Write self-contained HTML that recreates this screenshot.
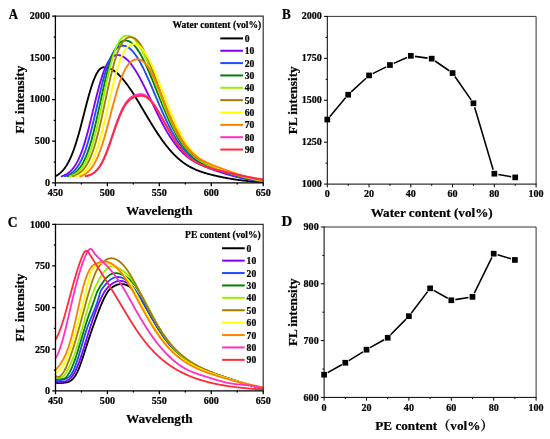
<!DOCTYPE html>
<html lang="en">
<head>
<meta charset="utf-8">
<title>Fluorescence spectra</title>
<style>
html,body{margin:0;padding:0;background:#fff;}
body{width:550px;height:439px;overflow:hidden;}
svg{display:block;}
text{font-family:'Liberation Serif', 'Noto Serif CJK SC', serif;font-weight:bold;fill:#000;stroke:#000;stroke-width:0.22px;}
.t{font-size:10.1px;}
.a{font-size:13.2px;}
.l{font-size:13.5px;}
.g{font-size:9.6px;}
</style>
</head>
<body>
<svg width="550" height="439" viewBox="0 0 550 439">
<rect width="550" height="439" fill="#fff"/>
<g id="panelA">
<clipPath id="cA"><rect x="55.4" y="16.2" width="207.8" height="167.7"/></clipPath>
<g clip-path="url(#cA)">
<polyline points="55.4,176.28 55.92,176 56.44,175.71 56.96,175.4 57.48,175.07 58,174.73 58.52,174.36 59.04,173.97 59.56,173.57 60.08,173.14 60.59,172.68 61.11,172.21 61.63,171.7 62.15,171.17 62.67,170.61 63.19,170.02 63.71,169.4 64.23,168.75 64.75,168.06 65.27,167.34 65.79,166.58 66.31,165.79 66.83,164.96 67.35,164.09 67.87,163.18 68.39,162.22 68.91,161.23 69.43,160.19 69.95,159.1 70.47,157.97 70.98,156.8 71.5,155.58 72.02,154.31 72.54,152.99 73.06,151.63 73.58,150.22 74.1,148.76 74.62,147.26 75.14,145.71 75.66,144.11 76.18,142.47 76.7,140.79 77.22,139.07 77.74,137.3 78.26,135.5 78.78,133.66 79.3,131.79 79.82,129.89 80.34,127.95 80.86,126 81.38,124.02 81.89,122.02 82.41,120.01 82.93,117.98 83.45,115.95 83.97,113.91 84.49,111.88 85.01,109.84 85.53,107.82 86.05,105.81 86.57,103.81 87.09,101.84 87.61,99.89 88.13,97.97 88.65,96.08 89.17,94.23 89.69,92.42 90.21,90.65 90.73,88.94 91.25,87.27 91.76,85.66 92.28,84.11 92.8,82.61 93.32,81.18 93.84,79.82 94.36,78.52 94.88,77.29 95.4,76.13 95.92,75.04 96.44,74.02 96.96,73.08 97.48,72.21 98,71.41 98.52,70.68 99.04,70.03 99.56,69.45 100.08,68.94 100.6,68.51 101.12,68.14 101.64,67.84 102.16,67.61 102.67,67.44 103.19,67.34 103.71,67.29 104.23,67.3 104.75,67.32 105.27,67.37 105.79,67.43 106.31,67.51 106.83,67.61 107.35,67.72 107.87,67.86 108.39,68.01 108.91,68.18 109.43,68.37 109.95,68.58 110.47,68.81 110.99,69.05 111.51,69.31 112.03,69.59 112.55,69.89 113.06,70.21 113.58,70.54 114.1,70.89 114.62,71.25 115.14,71.63 115.66,72.03 116.18,72.45 116.7,72.88 117.22,73.32 117.74,73.79 118.26,74.26 118.78,74.76 119.3,75.27 119.82,75.79 120.34,76.33 120.86,76.88 121.38,77.45 121.9,78.03 122.42,78.62 122.94,79.23 123.45,79.85 123.97,80.48 124.49,81.12 125.01,81.78 125.53,82.45 126.05,83.13 126.57,83.82 127.09,84.52 127.61,85.23 128.13,85.96 128.65,86.69 129.17,87.43 129.69,88.18 130.21,88.95 130.73,89.72 131.25,90.49 131.77,91.28 132.29,92.07 132.81,92.87 133.32,93.68 133.84,94.5 134.36,95.32 134.88,96.14 135.4,96.98 135.92,97.81 136.44,98.66 136.96,99.5 137.48,100.36 138,101.21 138.52,102.07 139.04,102.94 139.56,103.8 140.08,104.67 140.6,105.54 141.12,106.41 141.64,107.29 142.16,108.17 142.68,109.04 143.2,109.92 143.71,110.8 144.23,111.68 144.75,112.56 145.27,113.43 145.79,114.31 146.31,115.19 146.83,116.06 147.35,116.94 147.87,117.81 148.39,118.68 148.91,119.54 149.43,120.41 149.95,121.27 150.47,122.13 150.99,122.98 151.51,123.83 152.03,124.68 152.55,125.52 153.07,126.36 153.59,127.2 154.1,128.02 154.62,128.85 155.14,129.67 155.66,130.48 156.18,131.29 156.7,132.09 157.22,132.88 157.74,133.67 158.26,134.45 158.78,135.23 159.3,136 159.82,136.76 160.34,137.52 160.86,138.26 161.38,139 161.9,139.74 162.42,140.46 162.94,141.18 163.46,141.89 163.98,142.59 164.5,143.29 165.01,143.97 165.53,144.65 166.05,145.32 166.57,145.98 167.09,146.63 167.61,147.27 168.13,147.91 168.65,148.53 169.17,149.15 169.69,149.76 170.21,150.36 170.73,150.95 171.25,151.53 171.77,152.11 172.29,152.67 172.81,153.23 173.33,153.77 173.85,154.31 174.37,154.84 174.88,155.36 175.4,155.87 175.92,156.37 176.44,156.87 176.96,157.35 177.48,157.83 178,158.3 178.52,158.75 179.04,159.2 179.56,159.65 180.08,160.08 180.6,160.5 181.12,160.92 181.64,161.33 182.16,161.73 182.68,162.12 183.2,162.51 183.72,162.88 184.24,163.25 184.76,163.61 185.28,163.97 185.79,164.31 186.31,164.65 186.83,164.98 187.35,165.31 187.87,165.62 188.39,165.93 188.91,166.24 189.43,166.53 189.95,166.82 190.47,167.11 190.99,167.39 191.51,167.66 192.03,167.92 192.55,168.18 193.07,168.44 193.59,168.68 194.11,168.93 194.63,169.16 195.15,169.4 195.66,169.62 196.18,169.85 196.7,170.06 197.22,170.28 197.74,170.48 198.26,170.69 198.78,170.89 199.3,171.08 199.82,171.28 200.34,171.46 200.86,171.65 201.38,171.83 201.9,172 202.42,172.18 202.94,172.35 203.46,172.52 203.98,172.68 204.5,172.84 205.02,173 205.54,173.15 206.05,173.31 206.57,173.46 207.09,173.61 207.61,173.75 208.13,173.9 208.65,174.04 209.17,174.18 209.69,174.31 210.21,174.45 210.73,174.58 211.25,174.72 211.77,174.85 212.29,174.97 212.81,175.1 213.33,175.23 213.85,175.35 214.37,175.48 214.89,175.6 215.41,175.72 215.93,175.84 216.44,175.95 216.96,176.07 217.48,176.18 218,176.3 218.52,176.41 219.04,176.52 219.56,176.63 220.08,176.74 220.6,176.85 221.12,176.96 221.64,177.07 222.16,177.17 222.68,177.28 223.2,177.38 223.72,177.48 224.24,177.58 224.76,177.68 225.28,177.78 225.8,177.88 226.32,177.98 226.83,178.07 227.35,178.17 227.87,178.26 228.39,178.35 228.91,178.44 229.43,178.54 229.95,178.63 230.47,178.71 230.99,178.8 231.51,178.89 232.03,178.97 232.55,179.06 233.07,179.14 233.59,179.22 234.11,179.3 234.63,179.38 235.15,179.46 235.67,179.54 236.19,179.61 236.71,179.69 237.22,179.76 237.74,179.83 238.26,179.91 238.78,179.98 239.3,180.05 239.82,180.11 240.34,180.18 240.86,180.25 241.38,180.31 241.9,180.37 242.42,180.44 242.94,180.5 243.46,180.56 243.98,180.62 244.5,180.67 245.02,180.73 245.54,180.79 246.06,180.84 246.58,180.9 247.1,180.95 247.62,181 248.13,181.05 248.65,181.1 249.17,181.15 249.69,181.19 250.21,181.24 250.73,181.29 251.25,181.33 251.77,181.37 252.29,181.42 252.81,181.46 253.33,181.5 253.85,181.54 254.37,181.58 254.89,181.61 255.41,181.65 255.93,181.69 256.45,181.72 256.97,181.75 257.49,181.79 258,181.82 258.52,181.85 259.04,181.88 259.56,181.91 260.08,181.94 260.6,181.97 261.12,182 261.64,182.03 262.16,182.05 262.68,182.08 263.2,182.1" fill="none" stroke="#000000" stroke-width="1.85" stroke-linejoin="round" stroke-linecap="round"/>
<polyline points="61.63,176.32 62.15,176.15 62.67,175.96 63.19,175.76 63.71,175.55 64.23,175.33 64.75,175.08 65.27,174.83 65.79,174.55 66.31,174.26 66.83,173.95 67.35,173.62 67.87,173.27 68.39,172.89 68.91,172.5 69.43,172.07 69.95,171.63 70.47,171.15 70.98,170.65 71.5,170.12 72.02,169.56 72.54,168.96 73.06,168.33 73.58,167.67 74.1,166.97 74.62,166.23 75.14,165.45 75.66,164.63 76.18,163.77 76.7,162.86 77.22,161.91 77.74,160.92 78.26,159.87 78.78,158.78 79.3,157.63 79.82,156.44 80.34,155.19 80.86,153.9 81.38,152.55 81.89,151.15 82.41,149.69 82.93,148.18 83.45,146.63 83.97,145.01 84.49,143.35 85.01,141.64 85.53,139.88 86.05,138.08 86.57,136.23 87.09,134.34 87.61,132.4 88.13,130.43 88.65,128.43 89.17,126.39 89.69,124.32 90.21,122.23 90.73,120.11 91.25,117.98 91.76,115.84 92.28,113.68 92.8,111.52 93.32,109.35 93.84,107.19 94.36,105.03 94.88,102.89 95.4,100.76 95.92,98.65 96.44,96.56 96.96,94.5 97.48,92.47 98,90.47 98.52,88.52 99.04,86.6 99.56,84.73 100.08,82.9 100.6,81.13 101.12,79.41 101.64,77.74 102.16,76.13 102.67,74.58 103.19,73.08 103.71,71.65 104.23,70.28 104.75,68.98 105.27,67.73 105.79,66.55 106.31,65.43 106.83,64.38 107.35,63.39 107.87,62.46 108.39,61.59 108.91,60.78 109.43,60.04 109.95,59.35 110.47,58.72 110.99,58.15 111.51,57.63 112.03,57.16 112.55,56.75 113.06,56.38 113.58,56.06 114.1,55.79 114.62,55.57 115.14,55.39 115.66,55.24 116.18,55.14 116.7,55.07 117.22,55.04 117.74,55.05 118.26,55.08 118.78,55.13 119.3,55.22 119.82,55.33 120.34,55.47 120.86,55.63 121.38,55.83 121.9,56.05 122.42,56.29 122.94,56.57 123.45,56.86 123.97,57.19 124.49,57.54 125.01,57.92 125.53,58.32 126.05,58.74 126.57,59.2 127.09,59.67 127.61,60.17 128.13,60.7 128.65,61.24 129.17,61.81 129.69,62.41 130.21,63.02 130.73,63.66 131.25,64.32 131.77,65 132.29,65.7 132.81,66.42 133.32,67.16 133.84,67.92 134.36,68.7 134.88,69.5 135.4,70.32 135.92,71.15 136.44,72 136.96,72.86 137.48,73.75 138,74.64 138.52,75.55 139.04,76.48 139.56,77.42 140.08,78.37 140.6,79.33 141.12,80.31 141.64,81.3 142.16,82.29 142.68,83.3 143.2,84.32 143.71,85.34 144.23,86.38 144.75,87.42 145.27,88.47 145.79,89.52 146.31,90.59 146.83,91.65 147.35,92.73 147.87,93.8 148.39,94.88 148.91,95.96 149.43,97.05 149.95,98.14 150.47,99.22 150.99,100.31 151.51,101.4 152.03,102.49 152.55,103.58 153.07,104.67 153.59,105.75 154.1,106.84 154.62,107.92 155.14,108.99 155.66,110.07 156.18,111.14 156.7,112.2 157.22,113.26 157.74,114.31 158.26,115.36 158.78,116.4 159.3,117.43 159.82,118.46 160.34,119.48 160.86,120.49 161.38,121.49 161.9,122.48 162.42,123.47 162.94,124.44 163.46,125.41 163.98,126.36 164.5,127.31 165.01,128.24 165.53,129.17 166.05,130.08 166.57,130.98 167.09,131.87 167.61,132.75 168.13,133.62 168.65,134.47 169.17,135.31 169.69,136.14 170.21,136.96 170.73,137.76 171.25,138.56 171.77,139.33 172.29,140.1 172.81,140.85 173.33,141.59 173.85,142.32 174.37,143.04 174.88,143.74 175.4,144.43 175.92,145.1 176.44,145.77 176.96,146.41 177.48,147.05 178,147.68 178.52,148.29 179.04,148.89 179.56,149.47 180.08,150.05 180.6,150.61 181.12,151.16 181.64,151.69 182.16,152.22 182.68,152.73 183.2,153.23 183.72,153.72 184.24,154.2 184.76,154.67 185.28,155.13 185.79,155.57 186.31,156.01 186.83,156.43 187.35,156.85 187.87,157.25 188.39,157.65 188.91,158.04 189.43,158.41 189.95,158.78 190.47,159.14 190.99,159.49 191.51,159.84 192.03,160.17 192.55,160.5 193.07,160.82 193.59,161.13 194.11,161.43 194.63,161.73 195.15,162.02 195.66,162.31 196.18,162.59 196.7,162.86 197.22,163.13 197.74,163.39 198.26,163.65 198.78,163.9 199.3,164.15 199.82,164.4 200.34,164.63 200.86,164.87 201.38,165.1 201.9,165.33 202.42,165.55 202.94,165.77 203.46,165.99 203.98,166.21 204.5,166.42 205.02,166.63 205.54,166.83 206.05,167.04 206.57,167.24 207.09,167.44 207.61,167.64 208.13,167.84 208.65,168.03 209.17,168.23 209.69,168.42 210.21,168.61 210.73,168.8 211.25,168.99 211.77,169.17 212.29,169.36 212.81,169.54 213.33,169.73 213.85,169.91 214.37,170.09 214.89,170.27 215.41,170.45 215.93,170.63 216.44,170.81 216.96,170.99 217.48,171.17 218,171.34 218.52,171.52 219.04,171.69 219.56,171.87 220.08,172.04 220.6,172.21 221.12,172.38 221.64,172.55 222.16,172.72 222.68,172.89 223.2,173.06 223.72,173.22 224.24,173.39 224.76,173.55 225.28,173.72 225.8,173.88 226.32,174.04 226.83,174.2 227.35,174.36 227.87,174.52 228.39,174.67 228.91,174.83 229.43,174.98 229.95,175.13 230.47,175.28 230.99,175.43 231.51,175.58 232.03,175.73 232.55,175.87 233.07,176.01 233.59,176.15 234.11,176.29 234.63,176.43 235.15,176.57 235.67,176.7 236.19,176.84 236.71,176.97 237.22,177.1 237.74,177.22 238.26,177.35 238.78,177.47 239.3,177.6 239.82,177.72 240.34,177.84 240.86,177.95 241.38,178.07 241.9,178.18 242.42,178.29 242.94,178.4 243.46,178.51 243.98,178.61 244.5,178.72 245.02,178.82 245.54,178.92 246.06,179.02 246.58,179.12 247.1,179.21 247.62,179.31 248.13,179.4 248.65,179.49 249.17,179.57 249.69,179.66 250.21,179.74 250.73,179.83 251.25,179.91 251.77,179.99 252.29,180.07 252.81,180.14 253.33,180.22 253.85,180.29 254.37,180.36 254.89,180.43 255.41,180.5 255.93,180.56 256.45,180.63 256.97,180.69 257.49,180.76 258,180.82 258.52,180.88 259.04,180.93 259.56,180.99 260.08,181.04 260.6,181.1 261.12,181.15 261.64,181.2 262.16,181.25 262.68,181.3 263.2,181.35" fill="none" stroke="#7f00ff" stroke-width="1.85" stroke-linejoin="round" stroke-linecap="round"/>
<polyline points="64.96,176.33 65.48,176.16 66,175.97 66.52,175.77 67.04,175.56 67.56,175.33 68.08,175.09 68.6,174.83 69.11,174.55 69.63,174.26 70.15,173.94 70.67,173.61 71.19,173.25 71.71,172.87 72.23,172.47 72.75,172.04 73.27,171.59 73.79,171.11 74.31,170.6 74.83,170.06 75.35,169.49 75.87,168.88 76.39,168.25 76.91,167.57 77.43,166.86 77.95,166.1 78.47,165.31 78.99,164.48 79.5,163.6 80.02,162.67 80.54,161.7 81.06,160.69 81.58,159.62 82.1,158.5 82.62,157.33 83.14,156.11 83.66,154.84 84.18,153.51 84.7,152.13 85.22,150.69 85.74,149.2 86.26,147.65 86.78,146.05 87.3,144.4 87.82,142.69 88.34,140.93 88.86,139.13 89.38,137.27 89.89,135.36 90.41,133.41 90.93,131.41 91.45,129.37 91.97,127.3 92.49,125.19 93.01,123.04 93.53,120.87 94.05,118.68 94.57,116.46 95.09,114.22 95.61,111.97 96.13,109.71 96.65,107.44 97.17,105.17 97.69,102.91 98.21,100.65 98.73,98.4 99.25,96.17 99.77,93.95 100.28,91.76 100.8,89.6 101.32,87.47 101.84,85.37 102.36,83.31 102.88,81.29 103.4,79.32 103.92,77.39 104.44,75.51 104.96,73.68 105.48,71.91 106,70.19 106.52,68.53 107.04,66.93 107.56,65.39 108.08,63.91 108.6,62.5 109.12,61.14 109.64,59.85 110.16,58.62 110.67,57.46 111.19,56.35 111.71,55.31 112.23,54.33 112.75,53.41 113.27,52.55 113.79,51.75 114.31,51.01 114.83,50.32 115.35,49.69 115.87,49.11 116.39,48.58 116.91,48.1 117.43,47.68 117.95,47.3 118.47,46.96 118.99,46.67 119.51,46.42 120.03,46.21 120.55,46.04 121.06,45.91 121.58,45.81 122.1,45.74 122.62,45.71 123.14,45.71 123.66,45.74 124.18,45.8 124.7,45.89 125.22,46.02 125.74,46.18 126.26,46.37 126.78,46.59 127.3,46.85 127.82,47.13 128.34,47.45 128.86,47.8 129.38,48.18 129.9,48.59 130.42,49.03 130.94,49.5 131.45,50 131.97,50.53 132.49,51.08 133.01,51.67 133.53,52.28 134.05,52.93 134.57,53.6 135.09,54.29 135.61,55.01 136.13,55.76 136.65,56.53 137.17,57.33 137.69,58.15 138.21,58.99 138.73,59.86 139.25,60.75 139.77,61.66 140.29,62.59 140.81,63.54 141.33,64.51 141.84,65.5 142.36,66.51 142.88,67.53 143.4,68.57 143.92,69.63 144.44,70.71 144.96,71.8 145.48,72.9 146,74.01 146.52,75.14 147.04,76.28 147.56,77.43 148.08,78.59 148.6,79.77 149.12,80.95 149.64,82.13 150.16,83.33 150.68,84.53 151.2,85.74 151.72,86.95 152.23,88.17 152.75,89.39 153.27,90.62 153.79,91.85 154.31,93.08 154.83,94.31 155.35,95.54 155.87,96.77 156.39,98 156.91,99.23 157.43,100.45 157.95,101.67 158.47,102.89 158.99,104.11 159.51,105.32 160.03,106.52 160.55,107.72 161.07,108.92 161.59,110.1 162.11,111.28 162.62,112.45 163.14,113.61 163.66,114.77 164.18,115.91 164.7,117.05 165.22,118.17 165.74,119.28 166.26,120.39 166.78,121.48 167.3,122.56 167.82,123.62 168.34,124.68 168.86,125.72 169.38,126.75 169.9,127.76 170.42,128.76 170.94,129.75 171.46,130.72 171.98,131.68 172.5,132.63 173.01,133.56 173.53,134.48 174.05,135.38 174.57,136.26 175.09,137.13 175.61,137.99 176.13,138.83 176.65,139.65 177.17,140.46 177.69,141.26 178.21,142.04 178.73,142.8 179.25,143.55 179.77,144.28 180.29,145 180.81,145.7 181.33,146.39 181.85,147.07 182.37,147.72 182.89,148.37 183.4,149 183.92,149.61 184.44,150.21 184.96,150.8 185.48,151.37 186,151.93 186.52,152.48 187.04,153.01 187.56,153.53 188.08,154.03 188.6,154.53 189.12,155.01 189.64,155.48 190.16,155.94 190.68,156.38 191.2,156.82 191.72,157.24 192.24,157.65 192.76,158.06 193.28,158.45 193.79,158.83 194.31,159.2 194.83,159.57 195.35,159.92 195.87,160.27 196.39,160.6 196.91,160.93 197.43,161.25 197.95,161.57 198.47,161.87 198.99,162.17 199.51,162.46 200.03,162.75 200.55,163.03 201.07,163.3 201.59,163.57 202.11,163.83 202.63,164.09 203.15,164.34 203.67,164.59 204.18,164.83 204.7,165.07 205.22,165.3 205.74,165.54 206.26,165.76 206.78,165.99 207.3,166.21 207.82,166.43 208.34,166.64 208.86,166.85 209.38,167.06 209.9,167.27 210.42,167.48 210.94,167.68 211.46,167.88 211.98,168.08 212.5,168.28 213.02,168.48 213.54,168.67 214.06,168.87 214.57,169.06 215.09,169.25 215.61,169.44 216.13,169.63 216.65,169.82 217.17,170.01 217.69,170.19 218.21,170.38 218.73,170.56 219.25,170.75 219.77,170.93 220.29,171.11 220.81,171.3 221.33,171.48 221.85,171.66 222.37,171.84 222.89,172.01 223.41,172.19 223.93,172.37 224.45,172.54 224.96,172.72 225.48,172.89 226,173.06 226.52,173.24 227.04,173.41 227.56,173.58 228.08,173.75 228.6,173.91 229.12,174.08 229.64,174.24 230.16,174.41 230.68,174.57 231.2,174.73 231.72,174.89 232.24,175.05 232.76,175.2 233.28,175.36 233.8,175.51 234.32,175.67 234.84,175.82 235.35,175.96 235.87,176.11 236.39,176.26 236.91,176.4 237.43,176.54 237.95,176.68 238.47,176.82 238.99,176.96 239.51,177.09 240.03,177.22 240.55,177.35 241.07,177.48 241.59,177.61 242.11,177.73 242.63,177.86 243.15,177.98 243.67,178.1 244.19,178.21 244.71,178.33 245.23,178.44 245.74,178.55 246.26,178.66 246.78,178.77 247.3,178.87 247.82,178.98 248.34,179.08 248.86,179.18 249.38,179.28 249.9,179.37 250.42,179.46 250.94,179.56 251.46,179.65 251.98,179.73 252.5,179.82 253.02,179.91 253.54,179.99 254.06,180.07 254.58,180.15 255.1,180.22 255.62,180.3 256.13,180.37 256.65,180.45 257.17,180.52 257.69,180.59 258.21,180.65 258.73,180.72 259.25,180.78 259.77,180.84 260.29,180.91 260.81,180.97 261.33,181.02 261.85,181.08 262.37,181.13 262.89,181.19" fill="none" stroke="#1f4bff" stroke-width="1.85" stroke-linejoin="round" stroke-linecap="round"/>
<polyline points="67.76,176.26 68.28,176.1 68.8,175.93 69.32,175.75 69.84,175.55 70.36,175.34 70.88,175.11 71.4,174.87 71.92,174.6 72.44,174.33 72.96,174.03 73.48,173.71 74,173.37 74.52,173.01 75.04,172.63 75.56,172.22 76.08,171.79 76.6,171.33 77.12,170.84 77.63,170.32 78.15,169.77 78.67,169.18 79.19,168.56 79.71,167.91 80.23,167.21 80.75,166.48 81.27,165.7 81.79,164.89 82.31,164.02 82.83,163.11 83.35,162.16 83.87,161.15 84.39,160.09 84.91,158.98 85.43,157.82 85.95,156.6 86.47,155.33 86.99,154 87.51,152.61 88.02,151.16 88.54,149.65 89.06,148.09 89.58,146.47 90.1,144.78 90.62,143.04 91.14,141.25 91.66,139.39 92.18,137.48 92.7,135.52 93.22,133.51 93.74,131.44 94.26,129.33 94.78,127.18 95.3,124.98 95.82,122.75 96.34,120.48 96.86,118.18 97.38,115.85 97.9,113.5 98.41,111.13 98.93,108.75 99.45,106.35 99.97,103.95 100.49,101.55 101.01,99.16 101.53,96.77 102.05,94.39 102.57,92.04 103.09,89.7 103.61,87.39 104.13,85.11 104.65,82.87 105.17,80.67 105.69,78.5 106.21,76.39 106.73,74.32 107.25,72.3 107.77,70.34 108.29,68.44 108.8,66.6 109.32,64.82 109.84,63.1 110.36,61.44 110.88,59.85 111.4,58.33 111.92,56.88 112.44,55.49 112.96,54.18 113.48,52.93 114,51.74 114.52,50.63 115.04,49.58 115.56,48.6 116.08,47.68 116.6,46.83 117.12,46.04 117.64,45.31 118.16,44.64 118.68,44.03 119.19,43.47 119.71,42.97 120.23,42.52 120.75,42.13 121.27,41.78 121.79,41.48 122.31,41.22 122.83,41.01 123.35,40.84 123.87,40.71 124.39,40.62 124.91,40.56 125.43,40.54 125.95,40.55 126.47,40.6 126.99,40.68 127.51,40.79 128.03,40.94 128.55,41.13 129.07,41.35 129.58,41.6 130.1,41.89 130.62,42.21 131.14,42.57 131.66,42.96 132.18,43.38 132.7,43.84 133.22,44.33 133.74,44.85 134.26,45.4 134.78,45.98 135.3,46.59 135.82,47.24 136.34,47.91 136.86,48.62 137.38,49.35 137.9,50.11 138.42,50.9 138.94,51.71 139.46,52.56 139.97,53.42 140.49,54.32 141.01,55.23 141.53,56.18 142.05,57.14 142.57,58.13 143.09,59.14 143.61,60.17 144.13,61.22 144.65,62.29 145.17,63.38 145.69,64.49 146.21,65.61 146.73,66.75 147.25,67.91 147.77,69.08 148.29,70.27 148.81,71.46 149.33,72.68 149.85,73.9 150.36,75.13 150.88,76.38 151.4,77.63 151.92,78.9 152.44,80.17 152.96,81.44 153.48,82.73 154,84.02 154.52,85.31 155.04,86.61 155.56,87.91 156.08,89.21 156.6,90.51 157.12,91.82 157.64,93.12 158.16,94.43 158.68,95.73 159.2,97.03 159.72,98.33 160.24,99.62 160.75,100.91 161.27,102.2 161.79,103.48 162.31,104.75 162.83,106.02 163.35,107.28 163.87,108.53 164.39,109.77 164.91,111.01 165.43,112.23 165.95,113.45 166.47,114.65 166.99,115.84 167.51,117.03 168.03,118.2 168.55,119.35 169.07,120.5 169.59,121.63 170.11,122.75 170.63,123.85 171.14,124.94 171.66,126.02 172.18,127.08 172.7,128.13 173.22,129.16 173.74,130.18 174.26,131.18 174.78,132.16 175.3,133.13 175.82,134.08 176.34,135.02 176.86,135.94 177.38,136.85 177.9,137.73 178.42,138.6 178.94,139.46 179.46,140.3 179.98,141.12 180.5,141.92 181.02,142.71 181.53,143.48 182.05,144.24 182.57,144.98 183.09,145.7 183.61,146.41 184.13,147.1 184.65,147.77 185.17,148.43 185.69,149.08 186.21,149.71 186.73,150.32 187.25,150.92 187.77,151.5 188.29,152.07 188.81,152.63 189.33,153.17 189.85,153.69 190.37,154.21 190.89,154.71 191.41,155.19 191.92,155.67 192.44,156.13 192.96,156.58 193.48,157.02 194,157.44 194.52,157.86 195.04,158.26 195.56,158.65 196.08,159.04 196.6,159.41 197.12,159.77 197.64,160.12 198.16,160.47 198.68,160.8 199.2,161.13 199.72,161.45 200.24,161.76 200.76,162.06 201.28,162.36 201.8,162.64 202.31,162.92 202.83,163.2 203.35,163.47 203.87,163.73 204.39,163.99 204.91,164.24 205.43,164.49 205.95,164.73 206.47,164.96 206.99,165.2 207.51,165.43 208.03,165.65 208.55,165.87 209.07,166.09 209.59,166.31 210.11,166.52 210.63,166.73 211.15,166.93 211.67,167.14 212.19,167.34 212.7,167.54 213.22,167.74 213.74,167.94 214.26,168.13 214.78,168.32 215.3,168.52 215.82,168.71 216.34,168.89 216.86,169.08 217.38,169.27 217.9,169.46 218.42,169.64 218.94,169.83 219.46,170.01 219.98,170.19 220.5,170.38 221.02,170.56 221.54,170.74 222.06,170.92 222.58,171.1 223.09,171.28 223.61,171.46 224.13,171.63 224.65,171.81 225.17,171.99 225.69,172.16 226.21,172.34 226.73,172.51 227.25,172.68 227.77,172.86 228.29,173.03 228.81,173.2 229.33,173.37 229.85,173.54 230.37,173.71 230.89,173.87 231.41,174.04 231.93,174.21 232.45,174.37 232.97,174.53 233.48,174.69 234,174.85 234.52,175.01 235.04,175.17 235.56,175.32 236.08,175.48 236.6,175.63 237.12,175.78 237.64,175.93 238.16,176.08 238.68,176.22 239.2,176.37 239.72,176.51 240.24,176.65 240.76,176.79 241.28,176.93 241.8,177.06 242.32,177.2 242.84,177.33 243.36,177.46 243.87,177.59 244.39,177.71 244.91,177.84 245.43,177.96 245.95,178.08 246.47,178.2 246.99,178.31 247.51,178.43 248.03,178.54 248.55,178.65 249.07,178.76 249.59,178.86 250.11,178.97 250.63,179.07 251.15,179.17 251.67,179.27 252.19,179.37 252.71,179.46 253.23,179.55 253.75,179.64 254.26,179.73 254.78,179.82 255.3,179.9 255.82,179.99 256.34,180.07 256.86,180.15 257.38,180.23 257.9,180.3 258.42,180.38 258.94,180.45 259.46,180.52 259.98,180.59 260.5,180.66 261.02,180.72 261.54,180.79 262.06,180.85 262.58,180.91 263.1,180.97" fill="none" stroke="#007f00" stroke-width="1.85" stroke-linejoin="round" stroke-linecap="round"/>
<polyline points="69.63,176.27 70.15,176.11 70.67,175.95 71.19,175.77 71.71,175.57 72.23,175.37 72.75,175.15 73.27,174.91 73.79,174.66 74.31,174.4 74.83,174.11 75.35,173.81 75.87,173.48 76.39,173.14 76.91,172.77 77.43,172.38 77.95,171.97 78.47,171.53 78.99,171.06 79.5,170.57 80.02,170.04 80.54,169.49 81.06,168.9 81.58,168.27 82.1,167.62 82.62,166.92 83.14,166.18 83.66,165.4 84.18,164.58 84.7,163.72 85.22,162.8 85.74,161.84 86.26,160.84 86.78,159.78 87.3,158.66 87.82,157.5 88.34,156.27 88.86,154.99 89.38,153.66 89.89,152.26 90.41,150.81 90.93,149.29 91.45,147.72 91.97,146.08 92.49,144.38 93.01,142.62 93.53,140.81 94.05,138.93 94.57,136.99 95.09,135 95.61,132.95 96.13,130.85 96.65,128.69 97.17,126.49 97.69,124.24 98.21,121.95 98.73,119.62 99.25,117.25 99.77,114.84 100.28,112.41 100.8,109.96 101.32,107.48 101.84,104.99 102.36,102.49 102.88,99.98 103.4,97.48 103.92,94.97 104.44,92.47 104.96,89.99 105.48,87.53 106,85.09 106.52,82.67 107.04,80.29 107.56,77.95 108.08,75.64 108.6,73.39 109.12,71.18 109.64,69.02 110.16,66.92 110.67,64.88 111.19,62.9 111.71,60.99 112.23,59.14 112.75,57.36 113.27,55.65 113.79,54.01 114.31,52.45 114.83,50.96 115.35,49.54 115.87,48.2 116.39,46.93 116.91,45.74 117.43,44.62 117.95,43.57 118.47,42.6 118.99,41.7 119.51,40.86 120.03,40.1 120.55,39.4 121.06,38.77 121.58,38.21 122.1,37.7 122.62,37.26 123.14,36.87 123.66,36.54 124.18,36.27 124.7,36.04 125.22,35.87 125.74,35.74 126.26,35.66 126.78,35.62 127.3,35.63 127.82,35.67 128.34,35.75 128.86,35.87 129.38,36.03 129.9,36.22 130.42,36.46 130.94,36.73 131.45,37.04 131.97,37.38 132.49,37.77 133.01,38.19 133.53,38.64 134.05,39.14 134.57,39.66 135.09,40.23 135.61,40.82 136.13,41.45 136.65,42.12 137.17,42.82 137.69,43.55 138.21,44.31 138.73,45.1 139.25,45.93 139.77,46.78 140.29,47.66 140.81,48.57 141.33,49.51 141.84,50.48 142.36,51.47 142.88,52.49 143.4,53.53 143.92,54.6 144.44,55.69 144.96,56.8 145.48,57.93 146,59.09 146.52,60.26 147.04,61.45 147.56,62.66 148.08,63.89 148.6,65.13 149.12,66.39 149.64,67.66 150.16,68.95 150.68,70.24 151.2,71.55 151.72,72.87 152.23,74.2 152.75,75.54 153.27,76.89 153.79,78.24 154.31,79.6 154.83,80.97 155.35,82.34 155.87,83.71 156.39,85.09 156.91,86.46 157.43,87.84 157.95,89.22 158.47,90.6 158.99,91.97 159.51,93.35 160.03,94.72 160.55,96.09 161.07,97.45 161.59,98.8 162.11,100.15 162.62,101.5 163.14,102.84 163.66,104.16 164.18,105.48 164.7,106.79 165.22,108.09 165.74,109.38 166.26,110.66 166.78,111.93 167.3,113.19 167.82,114.43 168.34,115.66 168.86,116.88 169.38,118.08 169.9,119.27 170.42,120.44 170.94,121.6 171.46,122.74 171.98,123.87 172.5,124.98 173.01,126.08 173.53,127.16 174.05,128.22 174.57,129.26 175.09,130.29 175.61,131.3 176.13,132.3 176.65,133.27 177.17,134.23 177.69,135.18 178.21,136.1 178.73,137.01 179.25,137.9 179.77,138.77 180.29,139.62 180.81,140.46 181.33,141.28 181.85,142.08 182.37,142.86 182.89,143.63 183.4,144.38 183.92,145.11 184.44,145.83 184.96,146.53 185.48,147.21 186,147.88 186.52,148.53 187.04,149.16 187.56,149.78 188.08,150.39 188.6,150.98 189.12,151.55 189.64,152.11 190.16,152.66 190.68,153.19 191.2,153.71 191.72,154.21 192.24,154.7 192.76,155.18 193.28,155.64 193.79,156.1 194.31,156.54 194.83,156.97 195.35,157.39 195.87,157.79 196.39,158.19 196.91,158.58 197.43,158.95 197.95,159.32 198.47,159.68 198.99,160.02 199.51,160.36 200.03,160.69 200.55,161.01 201.07,161.33 201.59,161.64 202.11,161.93 202.63,162.23 203.15,162.51 203.67,162.79 204.18,163.06 204.7,163.33 205.22,163.59 205.74,163.85 206.26,164.1 206.78,164.35 207.3,164.59 207.82,164.83 208.34,165.06 208.86,165.29 209.38,165.51 209.9,165.74 210.42,165.96 210.94,166.17 211.46,166.39 211.98,166.6 212.5,166.8 213.02,167.01 213.54,167.21 214.06,167.41 214.57,167.61 215.09,167.81 215.61,168.01 216.13,168.2 216.65,168.4 217.17,168.59 217.69,168.78 218.21,168.97 218.73,169.16 219.25,169.34 219.77,169.53 220.29,169.71 220.81,169.9 221.33,170.08 221.85,170.27 222.37,170.45 222.89,170.63 223.41,170.81 223.93,170.99 224.45,171.17 224.96,171.35 225.48,171.53 226,171.7 226.52,171.88 227.04,172.05 227.56,172.23 228.08,172.4 228.6,172.58 229.12,172.75 229.64,172.92 230.16,173.09 230.68,173.26 231.2,173.43 231.72,173.6 232.24,173.76 232.76,173.93 233.28,174.09 233.8,174.26 234.32,174.42 234.84,174.58 235.35,174.74 235.87,174.9 236.39,175.05 236.91,175.21 237.43,175.36 237.95,175.51 238.47,175.66 238.99,175.81 239.51,175.96 240.03,176.11 240.55,176.25 241.07,176.39 241.59,176.53 242.11,176.67 242.63,176.81 243.15,176.95 243.67,177.08 244.19,177.21 244.71,177.34 245.23,177.47 245.74,177.6 246.26,177.72 246.78,177.84 247.3,177.96 247.82,178.08 248.34,178.2 248.86,178.31 249.38,178.43 249.9,178.54 250.42,178.65 250.94,178.76 251.46,178.86 251.98,178.96 252.5,179.07 253.02,179.17 253.54,179.26 254.06,179.36 254.58,179.45 255.1,179.54 255.62,179.63 256.13,179.72 256.65,179.81 257.17,179.89 257.69,179.98 258.21,180.06 258.73,180.14 259.25,180.21 259.77,180.29 260.29,180.36 260.81,180.44 261.33,180.51 261.85,180.58 262.37,180.64 262.89,180.71" fill="none" stroke="#99ee00" stroke-width="1.85" stroke-linejoin="round" stroke-linecap="round"/>
<polyline points="72.96,176.26 73.48,176.09 74,175.91 74.52,175.71 75.04,175.51 75.56,175.28 76.08,175.04 76.6,174.79 77.12,174.51 77.63,174.22 78.15,173.91 78.67,173.58 79.19,173.22 79.71,172.85 80.23,172.44 80.75,172.02 81.27,171.56 81.79,171.08 82.31,170.57 82.83,170.02 83.35,169.45 83.87,168.84 84.39,168.19 84.91,167.51 85.43,166.78 85.95,166.02 86.47,165.21 86.99,164.36 87.51,163.46 88.02,162.51 88.54,161.51 89.06,160.47 89.58,159.37 90.1,158.21 90.62,157 91.14,155.74 91.66,154.42 92.18,153.04 92.7,151.6 93.22,150.1 93.74,148.54 94.26,146.92 94.78,145.24 95.3,143.5 95.82,141.7 96.34,139.85 96.86,137.94 97.38,135.97 97.9,133.95 98.41,131.88 98.93,129.75 99.45,127.58 99.97,125.37 100.49,123.12 101.01,120.82 101.53,118.5 102.05,116.14 102.57,113.76 103.09,111.35 103.61,108.93 104.13,106.49 104.65,104.05 105.17,101.6 105.69,99.15 106.21,96.71 106.73,94.27 107.25,91.85 107.77,89.45 108.29,87.07 108.8,84.72 109.32,82.41 109.84,80.13 110.36,77.88 110.88,75.69 111.4,73.54 111.92,71.44 112.44,69.39 112.96,67.4 113.48,65.47 114,63.6 114.52,61.79 115.04,60.04 115.56,58.36 116.08,56.75 116.6,55.21 117.12,53.73 117.64,52.32 118.16,50.99 118.68,49.72 119.19,48.52 119.71,47.38 120.23,46.32 120.75,45.32 121.27,44.38 121.79,43.52 122.31,42.71 122.83,41.96 123.35,41.28 123.87,40.66 124.39,40.09 124.91,39.57 125.43,39.11 125.95,38.71 126.47,38.35 126.99,38.04 127.51,37.77 128.03,37.55 128.55,37.37 129.07,37.23 129.58,37.13 130.1,37.07 130.62,37.04 131.14,37.05 131.66,37.09 132.18,37.19 132.7,37.33 133.22,37.51 133.74,37.74 134.26,38.01 134.78,38.32 135.3,38.68 135.82,39.08 136.34,39.53 136.86,40.01 137.38,40.54 137.9,41.11 138.42,41.71 138.94,42.36 139.46,43.05 139.97,43.77 140.49,44.53 141.01,45.33 141.53,46.17 142.05,47.04 142.57,47.94 143.09,48.88 143.61,49.85 144.13,50.85 144.65,51.89 145.17,52.95 145.69,54.04 146.21,55.16 146.73,56.3 147.25,57.47 147.77,58.67 148.29,59.88 148.81,61.12 149.33,62.38 149.85,63.66 150.36,64.96 150.88,66.28 151.4,67.61 151.92,68.96 152.44,70.32 152.96,71.7 153.48,73.09 154,74.48 154.52,75.89 155.04,77.31 155.56,78.73 156.08,80.16 156.6,81.59 157.12,83.03 157.64,84.47 158.16,85.92 158.68,87.36 159.2,88.8 159.72,90.25 160.24,91.69 160.75,93.12 161.27,94.56 161.79,95.98 162.31,97.41 162.83,98.82 163.35,100.23 163.87,101.63 164.39,103.02 164.91,104.4 165.43,105.77 165.95,107.13 166.47,108.47 166.99,109.81 167.51,111.13 168.03,112.43 168.55,113.73 169.07,115 169.59,116.26 170.11,117.51 170.63,118.74 171.14,119.95 171.66,121.15 172.18,122.32 172.7,123.48 173.22,124.63 173.74,125.75 174.26,126.86 174.78,127.94 175.3,129.01 175.82,130.06 176.34,131.09 176.86,132.1 177.38,133.09 177.9,134.07 178.42,135.02 178.94,135.95 179.46,136.87 179.98,137.76 180.5,138.64 181.02,139.5 181.53,140.34 182.05,141.16 182.57,141.96 183.09,142.74 183.61,143.5 184.13,144.25 184.65,144.98 185.17,145.69 185.69,146.39 186.21,147.06 186.73,147.72 187.25,148.37 187.77,148.99 188.29,149.61 188.81,150.2 189.33,150.78 189.85,151.35 190.37,151.9 190.89,152.44 191.41,152.96 191.92,153.47 192.44,153.96 192.96,154.44 193.48,154.91 194,155.37 194.52,155.81 195.04,156.25 195.56,156.67 196.08,157.08 196.6,157.48 197.12,157.87 197.64,158.25 198.16,158.62 198.68,158.98 199.2,159.33 199.72,159.67 200.24,160.01 200.76,160.33 201.28,160.65 201.8,160.96 202.31,161.27 202.83,161.57 203.35,161.86 203.87,162.14 204.39,162.42 204.91,162.69 205.43,162.96 205.95,163.22 206.47,163.48 206.99,163.73 207.51,163.98 208.03,164.22 208.55,164.46 209.07,164.7 209.59,164.93 210.11,165.16 210.63,165.38 211.15,165.6 211.67,165.82 212.19,166.04 212.7,166.25 213.22,166.47 213.74,166.68 214.26,166.88 214.78,167.09 215.3,167.29 215.82,167.5 216.34,167.7 216.86,167.9 217.38,168.09 217.9,168.29 218.42,168.48 218.94,168.68 219.46,168.87 219.98,169.06 220.5,169.25 221.02,169.44 221.54,169.63 222.06,169.82 222.58,170.01 223.09,170.19 223.61,170.38 224.13,170.56 224.65,170.75 225.17,170.93 225.69,171.11 226.21,171.29 226.73,171.47 227.25,171.65 227.77,171.83 228.29,172.01 228.81,172.19 229.33,172.36 229.85,172.54 230.37,172.71 230.89,172.88 231.41,173.06 231.93,173.23 232.45,173.4 232.97,173.57 233.48,173.73 234,173.9 234.52,174.06 235.04,174.23 235.56,174.39 236.08,174.55 236.6,174.71 237.12,174.87 237.64,175.03 238.16,175.18 238.68,175.34 239.2,175.49 239.72,175.64 240.24,175.79 240.76,175.94 241.28,176.08 241.8,176.23 242.32,176.37 242.84,176.51 243.36,176.65 243.87,176.79 244.39,176.93 244.91,177.06 245.43,177.19 245.95,177.32 246.47,177.45 246.99,177.58 247.51,177.7 248.03,177.82 248.55,177.94 249.07,178.06 249.59,178.18 250.11,178.3 250.63,178.41 251.15,178.52 251.67,178.63 252.19,178.74 252.71,178.84 253.23,178.95 253.75,179.05 254.26,179.15 254.78,179.25 255.3,179.34 255.82,179.44 256.34,179.53 256.86,179.62 257.38,179.71 257.9,179.79 258.42,179.88 258.94,179.96 259.46,180.04 259.98,180.12 260.5,180.2 261.02,180.28 261.54,180.35 262.06,180.42 262.58,180.5 263.1,180.56" fill="none" stroke="#a67c00" stroke-width="1.85" stroke-linejoin="round" stroke-linecap="round"/>
<polyline points="76.18,176.31 76.7,176.15 77.22,175.97 77.74,175.78 78.26,175.57 78.78,175.35 79.3,175.11 79.82,174.86 80.34,174.59 80.86,174.3 81.38,174 81.89,173.67 82.41,173.32 82.93,172.95 83.45,172.56 83.97,172.14 84.49,171.69 85.01,171.22 85.53,170.71 86.05,170.18 86.57,169.62 87.09,169.02 87.61,168.38 88.13,167.71 88.65,167 89.17,166.25 89.69,165.46 90.21,164.63 90.73,163.75 91.25,162.83 91.76,161.86 92.28,160.84 92.8,159.76 93.32,158.64 93.84,157.47 94.36,156.24 94.88,154.95 95.4,153.61 95.92,152.22 96.44,150.77 96.96,149.26 97.48,147.69 98,146.07 98.52,144.39 99.04,142.66 99.56,140.87 100.08,139.03 100.6,137.14 101.12,135.2 101.64,133.21 102.16,131.18 102.67,129.1 103.19,126.98 103.71,124.83 104.23,122.64 104.75,120.42 105.27,118.18 105.79,115.91 106.31,113.62 106.83,111.32 107.35,109.01 107.87,106.69 108.39,104.37 108.91,102.06 109.43,99.75 109.95,97.45 110.47,95.17 110.99,92.91 111.51,90.67 112.03,88.46 112.55,86.29 113.06,84.15 113.58,82.05 114.1,79.99 114.62,77.98 115.14,76.01 115.66,74.1 116.18,72.24 116.7,70.44 117.22,68.7 117.74,67.01 118.26,65.39 118.78,63.83 119.3,62.33 119.82,60.9 120.34,59.53 120.86,58.23 121.38,56.99 121.9,55.81 122.42,54.7 122.94,53.65 123.45,52.67 123.97,51.74 124.49,50.88 125.01,50.08 125.53,49.34 126.05,48.65 126.57,48.02 127.09,47.45 127.61,46.92 128.13,46.45 128.65,46.03 129.17,45.65 129.69,45.32 130.21,45.04 130.73,44.8 131.25,44.59 131.77,44.43 132.29,44.3 132.81,44.21 133.32,44.15 133.84,44.12 134.36,44.13 134.88,44.17 135.4,44.25 135.92,44.38 136.44,44.54 136.96,44.73 137.48,44.97 138,45.25 138.52,45.56 139.04,45.91 139.56,46.3 140.08,46.73 140.6,47.19 141.12,47.69 141.64,48.22 142.16,48.79 142.68,49.4 143.2,50.03 143.71,50.71 144.23,51.41 144.75,52.15 145.27,52.92 145.79,53.72 146.31,54.55 146.83,55.42 147.35,56.31 147.87,57.23 148.39,58.17 148.91,59.14 149.43,60.14 149.95,61.17 150.47,62.22 150.99,63.29 151.51,64.38 152.03,65.5 152.55,66.63 153.07,67.79 153.59,68.96 154.1,70.15 154.62,71.36 155.14,72.59 155.66,73.83 156.18,75.08 156.7,76.35 157.22,77.63 157.74,78.92 158.26,80.22 158.78,81.52 159.3,82.84 159.82,84.17 160.34,85.5 160.86,86.83 161.38,88.18 161.9,89.52 162.42,90.87 162.94,92.22 163.46,93.57 163.98,94.92 164.5,96.26 165.01,97.61 165.53,98.96 166.05,100.3 166.57,101.63 167.09,102.96 167.61,104.29 168.13,105.61 168.65,106.92 169.17,108.23 169.69,109.52 170.21,110.81 170.73,112.08 171.25,113.35 171.77,114.6 172.29,115.85 172.81,117.08 173.33,118.3 173.85,119.5 174.37,120.69 174.88,121.87 175.4,123.03 175.92,124.18 176.44,125.31 176.96,126.42 177.48,127.52 178,128.61 178.52,129.67 179.04,130.72 179.56,131.75 180.08,132.77 180.6,133.77 181.12,134.74 181.64,135.71 182.16,136.65 182.68,137.58 183.2,138.48 183.72,139.37 184.24,140.24 184.76,141.1 185.28,141.93 185.79,142.75 186.31,143.55 186.83,144.33 187.35,145.09 187.87,145.84 188.39,146.56 188.91,147.27 189.43,147.97 189.95,148.64 190.47,149.3 190.99,149.95 191.51,150.57 192.03,151.18 192.55,151.77 193.07,152.35 193.59,152.91 194.11,153.46 194.63,153.99 195.15,154.51 195.66,155.01 196.18,155.5 196.7,155.98 197.22,156.44 197.74,156.89 198.26,157.33 198.78,157.75 199.3,158.16 199.82,158.56 200.34,158.95 200.86,159.33 201.38,159.7 201.9,160.05 202.42,160.4 202.94,160.74 203.46,161.07 203.98,161.39 204.5,161.7 205.02,162 205.54,162.29 206.05,162.58 206.57,162.86 207.09,163.13 207.61,163.4 208.13,163.66 208.65,163.91 209.17,164.16 209.69,164.41 210.21,164.64 210.73,164.88 211.25,165.11 211.77,165.33 212.29,165.55 212.81,165.77 213.33,165.98 213.85,166.19 214.37,166.4 214.89,166.6 215.41,166.81 215.93,167.01 216.44,167.2 216.96,167.4 217.48,167.59 218,167.79 218.52,167.98 219.04,168.17 219.56,168.35 220.08,168.54 220.6,168.73 221.12,168.91 221.64,169.09 222.16,169.28 222.68,169.46 223.2,169.64 223.72,169.82 224.24,170 224.76,170.18 225.28,170.36 225.8,170.54 226.32,170.72 226.83,170.9 227.35,171.08 227.87,171.26 228.39,171.44 228.91,171.61 229.43,171.79 229.95,171.96 230.47,172.14 230.99,172.32 231.51,172.49 232.03,172.66 232.55,172.84 233.07,173.01 233.59,173.18 234.11,173.35 234.63,173.52 235.15,173.69 235.67,173.86 236.19,174.03 236.71,174.19 237.22,174.36 237.74,174.52 238.26,174.69 238.78,174.85 239.3,175.01 239.82,175.17 240.34,175.32 240.86,175.48 241.38,175.63 241.9,175.79 242.42,175.94 242.94,176.09 243.46,176.24 243.98,176.38 244.5,176.53 245.02,176.67 245.54,176.81 246.06,176.95 246.58,177.09 247.1,177.22 247.62,177.36 248.13,177.49 248.65,177.62 249.17,177.74 249.69,177.87 250.21,177.99 250.73,178.11 251.25,178.23 251.77,178.35 252.29,178.47 252.81,178.58 253.33,178.69 253.85,178.8 254.37,178.91 254.89,179.01 255.41,179.12 255.93,179.22 256.45,179.32 256.97,179.42 257.49,179.51 258,179.6 258.52,179.7 259.04,179.79 259.56,179.87 260.08,179.96 260.6,180.04 261.12,180.12 261.64,180.2 262.16,180.28 262.68,180.36 263.2,180.43" fill="none" stroke="#ffff00" stroke-width="1.85" stroke-linejoin="round" stroke-linecap="round"/>
<polyline points="80.23,176.42 80.75,176.23 81.27,176.02 81.79,175.81 82.31,175.57 82.83,175.32 83.35,175.06 83.87,174.77 84.39,174.47 84.91,174.15 85.43,173.81 85.95,173.45 86.47,173.06 86.99,172.66 87.51,172.22 88.02,171.76 88.54,171.28 89.06,170.76 89.58,170.22 90.1,169.64 90.62,169.03 91.14,168.39 91.66,167.71 92.18,167 92.7,166.25 93.22,165.45 93.74,164.62 94.26,163.75 94.78,162.83 95.3,161.87 95.82,160.87 96.34,159.82 96.86,158.72 97.38,157.58 97.9,156.39 98.41,155.15 98.93,153.86 99.45,152.52 99.97,151.14 100.49,149.71 101.01,148.23 101.53,146.7 102.05,145.13 102.57,143.52 103.09,141.86 103.61,140.16 104.13,138.42 104.65,136.64 105.17,134.83 105.69,132.98 106.21,131.1 106.73,129.2 107.25,127.27 107.77,125.32 108.29,123.35 108.8,121.37 109.32,119.37 109.84,117.37 110.36,115.36 110.88,113.35 111.4,111.34 111.92,109.34 112.44,107.35 112.96,105.37 113.48,103.41 114,101.47 114.52,99.56 115.04,97.67 115.56,95.81 116.08,93.98 116.6,92.19 117.12,90.44 117.64,88.73 118.16,87.06 118.68,85.43 119.19,83.85 119.71,82.32 120.23,80.84 120.75,79.41 121.27,78.03 121.79,76.7 122.31,75.43 122.83,74.21 123.35,73.04 123.87,71.93 124.39,70.87 124.91,69.86 125.43,68.91 125.95,68.01 126.47,67.16 126.99,66.36 127.51,65.61 128.03,64.91 128.55,64.26 129.07,63.66 129.58,63.1 130.1,62.58 130.62,62.11 131.14,61.68 131.66,61.3 132.18,60.95 132.7,60.64 133.22,60.36 133.74,60.12 134.26,59.92 134.78,59.74 135.3,59.6 135.82,59.49 136.34,59.4 136.86,59.34 137.38,59.3 137.9,59.29 138.42,59.31 138.94,59.38 139.46,59.49 139.97,59.64 140.49,59.83 141.01,60.07 141.53,60.35 142.05,60.67 142.57,61.03 143.09,61.43 143.61,61.87 144.13,62.35 144.65,62.88 145.17,63.44 145.69,64.03 146.21,64.67 146.73,65.34 147.25,66.05 147.77,66.79 148.29,67.56 148.81,68.37 149.33,69.21 149.85,70.08 150.36,70.99 150.88,71.92 151.4,72.87 151.92,73.86 152.44,74.87 152.96,75.9 153.48,76.96 154,78.04 154.52,79.15 155.04,80.27 155.56,81.41 156.08,82.57 156.6,83.74 157.12,84.93 157.64,86.14 158.16,87.35 158.68,88.58 159.2,89.82 159.72,91.07 160.24,92.33 160.75,93.59 161.27,94.86 161.79,96.13 162.31,97.41 162.83,98.69 163.35,99.97 163.87,101.25 164.39,102.53 164.91,103.8 165.43,105.08 165.95,106.35 166.47,107.62 166.99,108.88 167.51,110.13 168.03,111.38 168.55,112.61 169.07,113.84 169.59,115.06 170.11,116.27 170.63,117.46 171.14,118.65 171.66,119.82 172.18,120.98 172.7,122.12 173.22,123.25 173.74,124.37 174.26,125.46 174.78,126.55 175.3,127.62 175.82,128.67 176.34,129.7 176.86,130.72 177.38,131.72 177.9,132.7 178.42,133.66 178.94,134.61 179.46,135.53 179.98,136.44 180.5,137.33 181.02,138.21 181.53,139.06 182.05,139.9 182.57,140.71 183.09,141.51 183.61,142.29 184.13,143.05 184.65,143.8 185.17,144.53 185.69,145.23 186.21,145.93 186.73,146.6 187.25,147.26 187.77,147.9 188.29,148.52 188.81,149.13 189.33,149.72 189.85,150.29 190.37,150.85 190.89,151.4 191.41,151.93 191.92,152.44 192.44,152.94 192.96,153.43 193.48,153.9 194,154.36 194.52,154.81 195.04,155.25 195.56,155.67 196.08,156.08 196.6,156.48 197.12,156.87 197.64,157.25 198.16,157.61 198.68,157.97 199.2,158.32 199.72,158.66 200.24,158.99 200.76,159.31 201.28,159.62 201.8,159.93 202.31,160.23 202.83,160.52 203.35,160.8 203.87,161.08 204.39,161.35 204.91,161.61 205.43,161.87 205.95,162.13 206.47,162.38 206.99,162.62 207.51,162.86 208.03,163.1 208.55,163.33 209.07,163.56 209.59,163.78 210.11,164.01 210.63,164.23 211.15,164.44 211.67,164.65 212.19,164.87 212.7,165.07 213.22,165.28 213.74,165.49 214.26,165.69 214.78,165.89 215.3,166.09 215.82,166.29 216.34,166.49 216.86,166.69 217.38,166.88 217.9,167.08 218.42,167.27 218.94,167.47 219.46,167.66 219.98,167.85 220.5,168.04 221.02,168.24 221.54,168.43 222.06,168.62 222.58,168.81 223.09,169 223.61,169.19 224.13,169.38 224.65,169.57 225.17,169.75 225.69,169.94 226.21,170.13 226.73,170.32 227.25,170.51 227.77,170.69 228.29,170.88 228.81,171.07 229.33,171.25 229.85,171.44 230.37,171.62 230.89,171.8 231.41,171.99 231.93,172.17 232.45,172.35 232.97,172.53 233.48,172.71 234,172.89 234.52,173.07 235.04,173.24 235.56,173.42 236.08,173.59 236.6,173.76 237.12,173.94 237.64,174.11 238.16,174.28 238.68,174.44 239.2,174.61 239.72,174.77 240.24,174.94 240.76,175.1 241.28,175.26 241.8,175.42 242.32,175.57 242.84,175.73 243.36,175.88 243.87,176.03 244.39,176.18 244.91,176.33 245.43,176.48 245.95,176.62 246.47,176.76 246.99,176.9 247.51,177.04 248.03,177.18 248.55,177.31 249.07,177.44 249.59,177.57 250.11,177.7 250.63,177.83 251.15,177.95 251.67,178.07 252.19,178.19 252.71,178.31 253.23,178.42 253.75,178.54 254.26,178.65 254.78,178.76 255.3,178.87 255.82,178.97 256.34,179.08 256.86,179.18 257.38,179.28 257.9,179.37 258.42,179.47 258.94,179.56 259.46,179.65 259.98,179.74 260.5,179.83 261.02,179.92 261.54,180 262.06,180.08 262.58,180.16 263.1,180.24" fill="none" stroke="#ff7f00" stroke-width="1.85" stroke-linejoin="round" stroke-linecap="round"/>
<polyline points="85.53,176.17 86.05,176.07 86.57,175.97 87.09,175.84 87.61,175.7 88.13,175.55 88.65,175.38 89.17,175.19 89.69,174.99 90.21,174.77 90.73,174.53 91.25,174.27 91.76,173.98 92.28,173.67 92.8,173.34 93.32,172.99 93.84,172.61 94.36,172.2 94.88,171.76 95.4,171.29 95.92,170.79 96.44,170.26 96.96,169.69 97.48,169.08 98,168.44 98.52,167.77 99.04,167.05 99.56,166.29 100.08,165.49 100.6,164.65 101.12,163.77 101.64,162.84 102.16,161.87 102.67,160.85 103.19,159.79 103.71,158.69 104.23,157.55 104.75,156.36 105.27,155.13 105.79,153.86 106.31,152.56 106.83,151.21 107.35,149.84 107.87,148.43 108.39,146.99 108.91,145.52 109.43,144.03 109.95,142.52 110.47,141 110.99,139.46 111.51,137.9 112.03,136.35 112.55,134.78 113.06,133.22 113.58,131.67 114.1,130.12 114.62,128.58 115.14,127.06 115.66,125.55 116.18,124.07 116.7,122.61 117.22,121.17 117.74,119.77 118.26,118.4 118.78,117.06 119.3,115.76 119.82,114.49 120.34,113.27 120.86,112.09 121.38,110.94 121.9,109.84 122.42,108.78 122.94,107.77 123.45,106.8 123.97,105.87 124.49,104.99 125.01,104.15 125.53,103.35 126.05,102.6 126.57,101.88 127.09,101.21 127.61,100.57 128.13,99.98 128.65,99.42 129.17,98.9 129.69,98.41 130.21,97.96 130.73,97.55 131.25,97.16 131.77,96.8 132.29,96.48 132.81,96.18 133.32,95.9 133.84,95.66 134.36,95.43 134.88,95.23 135.4,95.06 135.92,94.9 136.44,94.76 136.96,94.64 137.48,94.54 138,94.45 138.52,94.38 139.04,94.32 139.56,94.28 140.08,94.25 140.6,94.23 141.12,94.22 141.64,94.22 142.16,94.26 142.68,94.34 143.2,94.46 143.71,94.61 144.23,94.8 144.75,95.02 145.27,95.28 145.79,95.58 146.31,95.91 146.83,96.27 147.35,96.67 147.87,97.1 148.39,97.56 148.91,98.05 149.43,98.57 149.95,99.13 150.47,99.71 150.99,100.31 151.51,100.95 152.03,101.61 152.55,102.29 153.07,103 153.59,103.73 154.1,104.48 154.62,105.25 155.14,106.04 155.66,106.85 156.18,107.68 156.7,108.52 157.22,109.38 157.74,110.25 158.26,111.13 158.78,112.03 159.3,112.94 159.82,113.85 160.34,114.77 160.86,115.7 161.38,116.64 161.9,117.58 162.42,118.53 162.94,119.48 163.46,120.43 163.98,121.38 164.5,122.33 165.01,123.28 165.53,124.23 166.05,125.18 166.57,126.13 167.09,127.06 167.61,128 168.13,128.93 168.65,129.85 169.17,130.77 169.69,131.68 170.21,132.58 170.73,133.47 171.25,134.35 171.77,135.22 172.29,136.09 172.81,136.94 173.33,137.78 173.85,138.61 174.37,139.42 174.88,140.23 175.4,141.02 175.92,141.8 176.44,142.57 176.96,143.32 177.48,144.06 178,144.79 178.52,145.5 179.04,146.2 179.56,146.89 180.08,147.56 180.6,148.22 181.12,148.87 181.64,149.5 182.16,150.11 182.68,150.72 183.2,151.31 183.72,151.88 184.24,152.45 184.76,153 185.28,153.54 185.79,154.06 186.31,154.57 186.83,155.07 187.35,155.56 187.87,156.03 188.39,156.49 188.91,156.94 189.43,157.38 189.95,157.81 190.47,158.22 190.99,158.63 191.51,159.02 192.03,159.4 192.55,159.78 193.07,160.14 193.59,160.49 194.11,160.84 194.63,161.17 195.15,161.5 195.66,161.81 196.18,162.12 196.7,162.42 197.22,162.71 197.74,163 198.26,163.27 198.78,163.54 199.3,163.8 199.82,164.06 200.34,164.31 200.86,164.55 201.38,164.78 201.9,165.01 202.42,165.24 202.94,165.46 203.46,165.67 203.98,165.88 204.5,166.08 205.02,166.28 205.54,166.47 206.05,166.66 206.57,166.85 207.09,167.03 207.61,167.21 208.13,167.38 208.65,167.55 209.17,167.72 209.69,167.88 210.21,168.04 210.73,168.2 211.25,168.36 211.77,168.51 212.29,168.66 212.81,168.81 213.33,168.96 213.85,169.1 214.37,169.24 214.89,169.39 215.41,169.52 215.93,169.66 216.44,169.8 216.96,169.93 217.48,170.07 218,170.2 218.52,170.33 219.04,170.46 219.56,170.59 220.08,170.72 220.6,170.85 221.12,170.98 221.64,171.11 222.16,171.23 222.68,171.36 223.2,171.48 223.72,171.61 224.24,171.73 224.76,171.86 225.28,171.98 225.8,172.1 226.32,172.23 226.83,172.35 227.35,172.47 227.87,172.59 228.39,172.72 228.91,172.84 229.43,172.96 229.95,173.08 230.47,173.2 230.99,173.32 231.51,173.44 232.03,173.57 232.55,173.69 233.07,173.81 233.59,173.93 234.11,174.05 234.63,174.17 235.15,174.28 235.67,174.4 236.19,174.52 236.71,174.64 237.22,174.76 237.74,174.88 238.26,174.99 238.78,175.11 239.3,175.23 239.82,175.34 240.34,175.46 240.86,175.57 241.38,175.69 241.9,175.8 242.42,175.92 242.94,176.03 243.46,176.14 243.98,176.25 244.5,176.36 245.02,176.47 245.54,176.58 246.06,176.69 246.58,176.8 247.1,176.91 247.62,177.01 248.13,177.12 248.65,177.22 249.17,177.32 249.69,177.43 250.21,177.53 250.73,177.63 251.25,177.73 251.77,177.83 252.29,177.93 252.81,178.02 253.33,178.12 253.85,178.21 254.37,178.31 254.89,178.4 255.41,178.49 255.93,178.58 256.45,178.67 256.97,178.76 257.49,178.85 258,178.93 258.52,179.02 259.04,179.1 259.56,179.18 260.08,179.27 260.6,179.35 261.12,179.43 261.64,179.5 262.16,179.58 262.68,179.66 263.2,179.73" fill="none" stroke="#ff2fc0" stroke-width="1.85" stroke-linejoin="round" stroke-linecap="round"/>
<polyline points="85.74,176.16 86.26,176.07 86.78,175.97 87.3,175.85 87.82,175.72 88.34,175.58 88.86,175.42 89.38,175.24 89.89,175.04 90.41,174.83 90.93,174.59 91.45,174.34 91.97,174.06 92.49,173.76 93.01,173.44 93.53,173.09 94.05,172.71 94.57,172.31 95.09,171.88 95.61,171.42 96.13,170.92 96.65,170.4 97.17,169.83 97.69,169.24 98.21,168.6 98.73,167.93 99.25,167.22 99.77,166.47 100.28,165.67 100.8,164.84 101.32,163.96 101.84,163.03 102.36,162.07 102.88,161.06 103.4,160 103.92,158.91 104.44,157.77 104.96,156.59 105.48,155.36 106,154.1 106.52,152.8 107.04,151.47 107.56,150.1 108.08,148.7 108.6,147.27 109.12,145.82 109.64,144.34 110.16,142.84 110.67,141.33 111.19,139.81 111.71,138.27 112.23,136.73 112.75,135.19 113.27,133.65 113.79,132.11 114.31,130.59 114.83,129.08 115.35,127.58 115.87,126.1 116.39,124.65 116.91,123.22 117.43,121.82 117.95,120.45 118.47,119.11 118.99,117.8 119.51,116.53 120.03,115.31 120.55,114.12 121.06,112.97 121.58,111.86 122.1,110.79 122.62,109.77 123.14,108.79 123.66,107.85 124.18,106.96 124.7,106.11 125.22,105.3 125.74,104.53 126.26,103.81 126.78,103.12 127.3,102.48 127.82,101.87 128.34,101.3 128.86,100.77 129.38,100.27 129.9,99.81 130.42,99.38 130.94,98.98 131.45,98.61 131.97,98.27 132.49,97.96 133.01,97.68 133.53,97.42 134.05,97.18 134.57,96.97 135.09,96.78 135.61,96.61 136.13,96.46 136.65,96.33 137.17,96.21 137.69,96.11 138.21,96.03 138.73,95.96 139.25,95.91 139.77,95.86 140.29,95.83 140.81,95.81 141.33,95.8 141.84,95.8 142.36,95.83 142.88,95.9 143.4,96.01 143.92,96.15 144.44,96.33 144.96,96.54 145.48,96.78 146,97.06 146.52,97.38 147.04,97.72 147.56,98.1 148.08,98.51 148.6,98.96 149.12,99.43 149.64,99.93 150.16,100.46 150.68,101.02 151.2,101.61 151.72,102.22 152.23,102.86 152.75,103.52 153.27,104.2 153.79,104.91 154.31,105.64 154.83,106.39 155.35,107.15 155.87,107.94 156.39,108.74 156.91,109.56 157.43,110.4 157.95,111.24 158.47,112.1 158.99,112.98 159.51,113.86 160.03,114.75 160.55,115.65 161.07,116.56 161.59,117.48 162.11,118.4 162.62,119.32 163.14,120.25 163.66,121.18 164.18,122.11 164.7,123.04 165.22,123.98 165.74,124.91 166.26,125.84 166.78,126.76 167.3,127.69 167.82,128.61 168.34,129.52 168.86,130.43 169.38,131.33 169.9,132.22 170.42,133.11 170.94,133.99 171.46,134.86 171.98,135.72 172.5,136.57 173.01,137.41 173.53,138.24 174.05,139.06 174.57,139.87 175.09,140.66 175.61,141.45 176.13,142.22 176.65,142.98 177.17,143.72 177.69,144.46 178.21,145.18 178.73,145.88 179.25,146.58 179.77,147.26 180.29,147.93 180.81,148.58 181.33,149.22 181.85,149.85 182.37,150.46 182.89,151.06 183.4,151.64 183.92,152.22 184.44,152.78 184.96,153.32 185.48,153.86 186,154.38 186.52,154.89 187.04,155.38 187.56,155.87 188.08,156.34 188.6,156.8 189.12,157.25 189.64,157.68 190.16,158.11 190.68,158.52 191.2,158.92 191.72,159.32 192.24,159.7 192.76,160.07 193.28,160.43 193.79,160.78 194.31,161.12 194.83,161.45 195.35,161.78 195.87,162.09 196.39,162.4 196.91,162.69 197.43,162.98 197.95,163.26 198.47,163.54 198.99,163.8 199.51,164.06 200.03,164.32 200.55,164.56 201.07,164.8 201.59,165.03 202.11,165.26 202.63,165.48 203.15,165.69 203.67,165.9 204.18,166.11 204.7,166.31 205.22,166.5 205.74,166.69 206.26,166.88 206.78,167.06 207.3,167.23 207.82,167.41 208.34,167.58 208.86,167.74 209.38,167.91 209.9,168.06 210.42,168.22 210.94,168.37 211.46,168.53 211.98,168.67 212.5,168.82 213.02,168.96 213.54,169.1 214.06,169.24 214.57,169.38 215.09,169.52 215.61,169.65 216.13,169.78 216.65,169.91 217.17,170.04 217.69,170.17 218.21,170.3 218.73,170.42 219.25,170.55 219.77,170.67 220.29,170.8 220.81,170.92 221.33,171.04 221.85,171.16 222.37,171.28 222.89,171.4 223.41,171.52 223.93,171.64 224.45,171.76 224.96,171.88 225.48,172 226,172.11 226.52,172.23 227.04,172.35 227.56,172.47 228.08,172.58 228.6,172.7 229.12,172.82 229.64,172.93 230.16,173.05 230.68,173.17 231.2,173.28 231.72,173.4 232.24,173.51 232.76,173.63 233.28,173.75 233.8,173.86 234.32,173.98 234.84,174.09 235.35,174.21 235.87,174.32 236.39,174.44 236.91,174.55 237.43,174.67 237.95,174.78 238.47,174.89 238.99,175.01 239.51,175.12 240.03,175.23 240.55,175.35 241.07,175.46 241.59,175.57 242.11,175.68 242.63,175.79 243.15,175.9 243.67,176.01 244.19,176.12 244.71,176.23 245.23,176.34 245.74,176.44 246.26,176.55 246.78,176.66 247.3,176.76 247.82,176.87 248.34,176.97 248.86,177.08 249.38,177.18 249.9,177.28 250.42,177.38 250.94,177.48 251.46,177.58 251.98,177.68 252.5,177.78 253.02,177.87 253.54,177.97 254.06,178.06 254.58,178.16 255.1,178.25 255.62,178.34 256.13,178.43 256.65,178.52 257.17,178.61 257.69,178.7 258.21,178.78 258.73,178.87 259.25,178.95 259.77,179.04 260.29,179.12 260.81,179.2 261.33,179.28 261.85,179.36 262.37,179.44 262.89,179.51" fill="none" stroke="#ff2a3a" stroke-width="1.85" stroke-linejoin="round" stroke-linecap="round"/>
</g>
<path d="M55.4 16.2H263.2V182.9" fill="none" stroke="#333" stroke-width="1.2"/>
<path d="M55.4 16.2V182.9H263.2" fill="none" stroke="#000" stroke-width="1.3" stroke-linecap="square"/>
<path d="M55.4 182.9v3.3M107.35 182.9v3.3M159.3 182.9v3.3M211.25 182.9v3.3M263.2 182.9v3.3M81.38 182.9v1.7M133.32 182.9v1.7M185.28 182.9v1.7M237.22 182.9v1.7M55.4 182.9h-3.3M55.4 141.22h-3.3M55.4 99.55h-3.3M55.4 57.88h-3.3M55.4 16.2h-3.3M55.4 162.06h-1.7M55.4 120.39h-1.7M55.4 78.71h-1.7M55.4 37.04h-1.7" fill="none" stroke="#000" stroke-width="1.3"/>
<text transform="translate(55.4 195.9) scale(1 1.08)" text-anchor="middle" class="t">450</text>
<text transform="translate(107.35 195.9) scale(1 1.08)" text-anchor="middle" class="t">500</text>
<text transform="translate(159.3 195.9) scale(1 1.08)" text-anchor="middle" class="t">550</text>
<text transform="translate(211.25 195.9) scale(1 1.08)" text-anchor="middle" class="t">600</text>
<text transform="translate(263.2 195.9) scale(1 1.08)" text-anchor="middle" class="t">650</text>
<text transform="translate(50 185.6) scale(1 1.08)" text-anchor="end" class="t">0</text>
<text transform="translate(50 143.92) scale(1 1.08)" text-anchor="end" class="t">500</text>
<text transform="translate(50 102.25) scale(1 1.08)" text-anchor="end" class="t">1000</text>
<text transform="translate(50 60.58) scale(1 1.08)" text-anchor="end" class="t">1500</text>
<text transform="translate(50 18.9) scale(1 1.08)" text-anchor="end" class="t">2000</text>
<text transform="translate(159.3 214.5) scale(1 1)" text-anchor="middle" class="a">Wavelength</text>
<text transform="translate(23.9 99.55) rotate(-90) scale(1 1)" text-anchor="middle" class="a">FL intensity</text>
<text transform="translate(8.8 18.7) scale(0.95 1.06)" class="l">A</text>
<text x="261.2" y="27.8" text-anchor="end" class="g">Water content (vol%)</text>
<path d="M220.3 38.4H243" stroke="#000000" stroke-width="2"/>
<text x="244.8" y="42" class="g">0</text>
<path d="M220.3 50.75H243" stroke="#7f00ff" stroke-width="2"/>
<text x="244.8" y="54.35" class="g">10</text>
<path d="M220.3 63.1H243" stroke="#1f4bff" stroke-width="2"/>
<text x="244.8" y="66.7" class="g">20</text>
<path d="M220.3 75.45H243" stroke="#007f00" stroke-width="2"/>
<text x="244.8" y="79.05" class="g">30</text>
<path d="M220.3 87.8H243" stroke="#99ee00" stroke-width="2"/>
<text x="244.8" y="91.4" class="g">40</text>
<path d="M220.3 100.15H243" stroke="#a67c00" stroke-width="2"/>
<text x="244.8" y="103.75" class="g">50</text>
<path d="M220.3 112.5H243" stroke="#ffff00" stroke-width="2"/>
<text x="244.8" y="116.1" class="g">60</text>
<path d="M220.3 124.85H243" stroke="#ff7f00" stroke-width="2"/>
<text x="244.8" y="128.45" class="g">70</text>
<path d="M220.3 137.2H243" stroke="#ff2fc0" stroke-width="2"/>
<text x="244.8" y="140.8" class="g">80</text>
<path d="M220.3 149.55H243" stroke="#ff2a3a" stroke-width="2"/>
<text x="244.8" y="153.15" class="g">90</text>
</g>
<g id="panelB">
<path d="M329.94 116.4L345.54 97.85M351.19 91.93L366.05 78.21M372.73 73.6L386.27 66.86M393.69 63.38L407.07 57.47M414.88 56.36L427.64 58.11M435.07 60.99L449.21 70.75M454.91 76.45L471.13 99.9M474.63 107.2L493.17 169.77M498.38 174.42L511.18 176.68" fill="none" stroke="#000" stroke-width="1.55"/>
<rect x="324.45" y="116.69" width="5.7" height="5.7" fill="#000"/>
<rect x="345.33" y="91.87" width="5.7" height="5.7" fill="#000"/>
<rect x="366.21" y="72.58" width="5.7" height="5.7" fill="#000"/>
<rect x="387.09" y="62.18" width="5.7" height="5.7" fill="#000"/>
<rect x="407.97" y="52.96" width="5.7" height="5.7" fill="#000"/>
<rect x="428.85" y="55.81" width="5.7" height="5.7" fill="#000"/>
<rect x="449.73" y="70.23" width="5.7" height="5.7" fill="#000"/>
<rect x="470.61" y="100.42" width="5.7" height="5.7" fill="#000"/>
<rect x="491.49" y="170.85" width="5.7" height="5.7" fill="#000"/>
<rect x="512.37" y="174.54" width="5.7" height="5.7" fill="#000"/>
<path d="M327.3 16.4H536.1V184.1" fill="none" stroke="#333" stroke-width="1"/>
<path d="M327.3 16.4V184.1H536.1" fill="none" stroke="#000" stroke-width="1" stroke-linecap="square"/>
<path d="M327.3 184.1v3.3M369.06 184.1v3.3M410.82 184.1v3.3M452.58 184.1v3.3M494.34 184.1v3.3M536.1 184.1v3.3M348.18 184.1v1.7M389.94 184.1v1.7M431.7 184.1v1.7M473.46 184.1v1.7M515.22 184.1v1.7M327.3 184.1h-3.3M327.3 142.18h-3.3M327.3 100.25h-3.3M327.3 58.33h-3.3M327.3 16.4h-3.3M327.3 163.14h-1.7M327.3 121.21h-1.7M327.3 79.29h-1.7M327.3 37.36h-1.7" fill="none" stroke="#000" stroke-width="1"/>
<text transform="translate(327.3 197) scale(1 1.08)" text-anchor="middle" class="t">0</text>
<text transform="translate(369.06 197) scale(1 1.08)" text-anchor="middle" class="t">20</text>
<text transform="translate(410.82 197) scale(1 1.08)" text-anchor="middle" class="t">40</text>
<text transform="translate(452.58 197) scale(1 1.08)" text-anchor="middle" class="t">60</text>
<text transform="translate(494.34 197) scale(1 1.08)" text-anchor="middle" class="t">80</text>
<text transform="translate(536.1 197) scale(1 1.08)" text-anchor="middle" class="t">100</text>
<text transform="translate(321.9 186.7) scale(1 1.08)" text-anchor="end" class="t">1000</text>
<text transform="translate(321.9 144.78) scale(1 1.08)" text-anchor="end" class="t">1250</text>
<text transform="translate(321.9 102.85) scale(1 1.08)" text-anchor="end" class="t">1500</text>
<text transform="translate(321.9 60.93) scale(1 1.08)" text-anchor="end" class="t">1750</text>
<text transform="translate(321.9 19) scale(1 1.08)" text-anchor="end" class="t">2000</text>
<text transform="translate(431.7 216.8) scale(1 1)" text-anchor="middle" class="a">Water content (vol%)</text>
<text transform="translate(296.5 100.25) rotate(-90) scale(1 1)" text-anchor="middle" class="a">FL intensity</text>
<text transform="translate(282 18.6) scale(0.97 1.06)" class="l">B</text>
</g>
<g id="panelC">
<clipPath id="cC"><rect x="55.5" y="224.3" width="207.7" height="167.55"/></clipPath>
<g clip-path="url(#cC)">
<polyline points="55.5,382.69 56.02,382.78 56.54,382.86 57.06,382.93 57.58,382.99 58.1,383.04 58.62,383.07 59.13,383.09 59.65,383.1 60.17,383.1 60.69,383.09 61.21,383.06 61.73,383.02 62.25,382.96 62.77,382.89 63.29,382.81 63.81,382.73 64.33,382.71 64.85,382.67 65.37,382.61 65.89,382.53 66.4,382.44 66.92,382.32 67.44,382.18 67.96,382.02 68.48,381.82 69,381.61 69.52,381.36 70.04,381.07 70.56,380.76 71.08,380.4 71.6,380 72.12,379.56 72.64,379.07 73.15,378.54 73.67,377.94 74.19,377.29 74.71,376.58 75.23,375.81 75.75,374.97 76.27,374.06 76.79,373.08 77.31,372.04 77.83,370.93 78.35,369.76 78.87,368.53 79.39,367.23 79.9,365.89 80.42,364.49 80.94,363.05 81.46,361.56 81.98,360.04 82.5,358.49 83.02,356.91 83.54,355.31 84.06,353.69 84.58,352.07 85.1,350.44 85.62,348.8 86.14,347.17 86.66,345.56 87.17,343.95 87.69,342.36 88.21,340.78 88.73,339.21 89.25,337.65 89.77,336.11 90.29,334.57 90.81,333.05 91.33,331.53 91.85,330.02 92.37,328.52 92.89,327.03 93.41,325.55 93.92,324.08 94.44,322.61 94.96,321.16 95.48,319.71 96,318.27 96.52,316.85 97.04,315.44 97.56,314.04 98.08,312.66 98.6,311.29 99.12,309.94 99.64,308.61 100.16,307.31 100.67,306.02 101.19,304.77 101.71,303.54 102.23,302.33 102.75,301.16 103.27,300.03 103.79,298.92 104.31,297.86 104.83,296.83 105.35,295.84 105.87,294.9 106.39,293.99 106.91,293.13 107.42,292.31 107.94,291.54 108.46,290.8 108.98,290.12 109.5,289.57 110.02,289.11 110.54,288.67 111.06,288.24 111.58,287.84 112.1,287.45 112.62,287.08 113.14,286.74 113.66,286.41 114.18,286.11 114.69,285.82 115.21,285.56 115.73,285.32 116.25,285.09 116.77,284.89 117.29,284.71 117.81,284.56 118.33,284.42 118.85,284.3 119.37,284.21 119.89,284.14 120.41,284.09 120.93,284.06 121.44,284.06 121.96,284.07 122.48,284.11 123,284.17 123.52,284.25 124.04,284.35 124.56,284.47 125.08,284.61 125.6,284.78 126.12,284.96 126.64,285.17 127.16,285.39 127.68,285.64 128.19,285.91 128.71,286.19 129.23,286.52 129.75,286.86 130.27,287.23 130.79,287.62 131.31,288.04 131.83,288.47 132.35,288.93 132.87,289.42 133.39,289.92 133.91,290.45 134.43,291 134.95,291.57 135.46,292.16 135.98,292.77 136.5,293.4 137.02,294.05 137.54,294.72 138.06,295.41 138.58,296.12 139.1,296.84 139.62,297.58 140.14,298.33 140.66,299.1 141.18,299.88 141.7,300.67 142.21,301.48 142.73,302.3 143.25,303.13 143.77,303.97 144.29,304.82 144.81,305.68 145.33,306.55 145.85,307.42 146.37,308.3 146.89,309.18 147.41,310.07 147.93,310.96 148.45,311.86 148.97,312.76 149.48,313.66 150,314.56 150.52,315.46 151.04,316.36 151.56,317.25 152.08,318.15 152.6,319.05 153.12,319.94 153.64,320.83 154.16,321.71 154.68,322.59 155.2,323.47 155.72,324.33 156.23,325.2 156.75,326.05 157.27,326.9 157.79,327.75 158.31,328.58 158.83,329.41 159.35,330.23 159.87,331.04 160.39,331.84 160.91,332.64 161.43,333.42 161.95,334.2 162.47,334.96 162.98,335.72 163.5,336.47 164.02,337.2 164.54,337.93 165.06,338.65 165.58,339.35 166.1,340.05 166.62,340.74 167.14,341.41 167.66,342.08 168.18,342.74 168.7,343.38 169.22,344.02 169.74,344.64 170.25,345.26 170.77,345.87 171.29,346.46 171.81,347.05 172.33,347.63 172.85,348.19 173.37,348.75 173.89,349.3 174.41,349.84 174.93,350.37 175.45,350.89 175.97,351.4 176.49,351.91 177,352.4 177.52,352.89 178.04,353.36 178.56,353.83 179.08,354.29 179.6,354.75 180.12,355.19 180.64,355.63 181.16,356.06 181.68,356.48 182.2,356.9 182.72,357.31 183.24,357.71 183.75,358.1 184.27,358.49 184.79,358.87 185.31,359.25 185.83,359.62 186.35,359.98 186.87,360.33 187.39,360.68 187.91,361.03 188.43,361.37 188.95,361.7 189.47,362.03 189.99,362.35 190.5,362.67 191.02,362.99 191.54,363.29 192.06,363.6 192.58,363.9 193.1,364.19 193.62,364.48 194.14,364.77 194.66,365.05 195.18,365.33 195.7,365.6 196.22,365.87 196.74,366.14 197.26,366.4 197.77,366.66 198.29,366.92 198.81,367.17 199.33,367.42 199.85,367.67 200.37,367.91 200.89,368.15 201.41,368.39 201.93,368.62 202.45,368.86 202.97,369.09 203.49,369.31 204.01,369.54 204.52,369.76 205.04,369.98 205.56,370.2 206.08,370.41 206.6,370.63 207.12,370.84 207.64,371.05 208.16,371.26 208.68,371.46 209.2,371.67 209.72,371.87 210.24,372.07 210.76,372.27 211.27,372.47 211.79,372.67 212.31,372.86 212.83,373.06 213.35,373.25 213.87,373.44 214.39,373.63 214.91,373.82 215.43,374.01 215.95,374.19 216.47,374.38 216.99,374.56 217.51,374.75 218.03,374.93 218.54,375.11 219.06,375.29 219.58,375.47 220.1,375.65 220.62,375.83 221.14,376.01 221.66,376.19 222.18,376.36 222.7,376.54 223.22,376.71 223.74,376.89 224.26,377.06 224.78,377.24 225.29,377.41 225.81,377.58 226.33,377.75 226.85,377.92 227.37,378.1 227.89,378.27 228.41,378.44 228.93,378.6 229.45,378.77 229.97,378.94 230.49,379.11 231.01,379.28 231.53,379.45 232.04,379.61 232.56,379.78 233.08,379.94 233.6,380.11 234.12,380.28 234.64,380.44 235.16,380.6 235.68,380.77 236.2,380.93 236.72,381.1 237.24,381.26 237.76,381.42 238.28,381.58 238.8,381.74 239.31,381.9 239.83,382.06 240.35,382.22 240.87,382.38 241.39,382.54 241.91,382.7 242.43,382.86 242.95,383.02 243.47,383.17 243.99,383.33 244.51,383.48 245.03,383.64 245.55,383.79 246.06,383.94 246.58,384.1 247.1,384.25 247.62,384.4 248.14,384.55 248.66,384.7 249.18,384.85 249.7,384.99 250.22,385.14 250.74,385.28 251.26,385.43 251.78,385.57 252.3,385.71 252.81,385.85 253.33,385.99 253.85,386.13 254.37,386.27 254.89,386.4 255.41,386.54 255.93,386.67 256.45,386.8 256.97,386.93 257.49,387.06 258.01,387.18 258.53,387.31 259.05,387.43 259.57,387.55 260.08,387.67 260.6,387.79 261.12,387.9 261.64,388.02 262.16,388.13 262.68,388.24 263.2,388.35" fill="none" stroke="#000000" stroke-width="1.8" stroke-linejoin="round" stroke-linecap="round"/>
<polyline points="55.5,381.61 56.02,381.68 56.54,381.75 57.06,381.8 57.58,381.84 58.1,381.86 58.62,381.87 59.13,381.87 59.65,381.85 60.17,381.82 60.69,381.78 61.21,381.75 61.73,381.76 62.25,381.75 62.77,381.72 63.29,381.67 63.81,381.6 64.33,381.51 64.85,381.39 65.37,381.25 65.89,381.09 66.4,380.89 66.92,380.67 67.44,380.41 67.96,380.12 68.48,379.79 69,379.42 69.52,379.02 70.04,378.57 70.56,378.07 71.08,377.53 71.6,376.94 72.12,376.3 72.64,375.6 73.15,374.84 73.67,374.02 74.19,373.15 74.71,372.22 75.23,371.23 75.75,370.18 76.27,369.07 76.79,367.91 77.31,366.69 77.83,365.43 78.35,364.11 78.87,362.74 79.39,361.32 79.9,359.87 80.42,358.38 80.94,356.85 81.46,355.29 81.98,353.7 82.5,352.09 83.02,350.46 83.54,348.81 84.06,347.15 84.58,345.48 85.1,343.81 85.62,342.14 86.14,340.46 86.66,338.78 87.17,337.11 87.69,335.43 88.21,333.77 88.73,332.11 89.25,330.45 89.77,328.81 90.29,327.18 90.81,325.56 91.33,323.96 91.85,322.37 92.37,320.8 92.89,319.24 93.41,317.71 93.92,316.2 94.44,314.71 94.96,313.24 95.48,311.8 96,310.39 96.52,309 97.04,307.64 97.56,306.31 98.08,305.01 98.6,303.74 99.12,302.5 99.64,301.3 100.16,300.13 100.67,298.99 101.19,297.89 101.71,296.83 102.23,295.8 102.75,294.8 103.27,293.85 103.79,292.93 104.31,292.05 104.83,291.2 105.35,290.39 105.87,289.76 106.39,289.15 106.91,288.56 107.42,287.98 107.94,287.43 108.46,286.89 108.98,286.38 109.5,285.89 110.02,285.42 110.54,284.97 111.06,284.54 111.58,284.13 112.1,283.75 112.62,283.39 113.14,283.05 113.66,282.74 114.18,282.45 114.69,282.19 115.21,281.94 115.73,281.72 116.25,281.53 116.77,281.36 117.29,281.22 117.81,281.1 118.33,281 118.85,280.93 119.37,280.88 119.89,280.86 120.41,280.87 120.93,280.89 121.44,280.94 121.96,281.01 122.48,281.11 123,281.23 123.52,281.37 124.04,281.53 124.56,281.71 125.08,281.92 125.6,282.15 126.12,282.4 126.64,282.68 127.16,282.97 127.68,283.29 128.19,283.64 128.71,284.01 129.23,284.41 129.75,284.84 130.27,285.28 130.79,285.76 131.31,286.25 131.83,286.77 132.35,287.31 132.87,287.87 133.39,288.46 133.91,289.06 134.43,289.69 134.95,290.33 135.46,291 135.98,291.69 136.5,292.39 137.02,293.11 137.54,293.85 138.06,294.6 138.58,295.38 139.1,296.16 139.62,296.96 140.14,297.77 140.66,298.6 141.18,299.44 141.7,300.29 142.21,301.14 142.73,302.01 143.25,302.89 143.77,303.77 144.29,304.66 144.81,305.56 145.33,306.47 145.85,307.37 146.37,308.28 146.89,309.2 147.41,310.11 147.93,311.03 148.45,311.95 148.97,312.87 149.48,313.79 150,314.71 150.52,315.62 151.04,316.54 151.56,317.45 152.08,318.36 152.6,319.26 153.12,320.16 153.64,321.05 154.16,321.94 154.68,322.82 155.2,323.7 155.72,324.57 156.23,325.43 156.75,326.29 157.27,327.13 157.79,327.97 158.31,328.8 158.83,329.62 159.35,330.44 159.87,331.24 160.39,332.04 160.91,332.82 161.43,333.6 161.95,334.37 162.47,335.12 162.98,335.87 163.5,336.61 164.02,337.33 164.54,338.05 165.06,338.76 165.58,339.45 166.1,340.14 166.62,340.82 167.14,341.48 167.66,342.14 168.18,342.79 168.7,343.42 169.22,344.05 169.74,344.66 170.25,345.27 170.77,345.87 171.29,346.46 171.81,347.03 172.33,347.6 172.85,348.16 173.37,348.71 173.89,349.25 174.41,349.78 174.93,350.3 175.45,350.82 175.97,351.32 176.49,351.82 177,352.31 177.52,352.79 178.04,353.26 178.56,353.72 179.08,354.18 179.6,354.63 180.12,355.07 180.64,355.5 181.16,355.93 181.68,356.35 182.2,356.76 182.72,357.16 183.24,357.56 183.75,357.95 184.27,358.34 184.79,358.72 185.31,359.09 185.83,359.46 186.35,359.82 186.87,360.17 187.39,360.52 187.91,360.87 188.43,361.21 188.95,361.54 189.47,361.87 189.99,362.19 190.5,362.51 191.02,362.82 191.54,363.13 192.06,363.44 192.58,363.74 193.1,364.03 193.62,364.33 194.14,364.61 194.66,364.9 195.18,365.18 195.7,365.45 196.22,365.73 196.74,366 197.26,366.26 197.77,366.52 198.29,366.78 198.81,367.04 199.33,367.29 199.85,367.54 200.37,367.79 200.89,368.03 201.41,368.27 201.93,368.51 202.45,368.74 202.97,368.98 203.49,369.21 204.01,369.44 204.52,369.66 205.04,369.89 205.56,370.11 206.08,370.33 206.6,370.54 207.12,370.76 207.64,370.97 208.16,371.18 208.68,371.39 209.2,371.6 209.72,371.81 210.24,372.01 210.76,372.22 211.27,372.42 211.79,372.62 212.31,372.82 212.83,373.02 213.35,373.21 213.87,373.41 214.39,373.6 214.91,373.79 215.43,373.98 215.95,374.17 216.47,374.36 216.99,374.55 217.51,374.74 218.03,374.92 218.54,375.11 219.06,375.29 219.58,375.48 220.1,375.66 220.62,375.84 221.14,376.02 221.66,376.2 222.18,376.38 222.7,376.56 223.22,376.74 223.74,376.91 224.26,377.09 224.78,377.27 225.29,377.44 225.81,377.62 226.33,377.79 226.85,377.96 227.37,378.14 227.89,378.31 228.41,378.48 228.93,378.65 229.45,378.82 229.97,378.99 230.49,379.16 231.01,379.33 231.53,379.5 232.04,379.67 232.56,379.84 233.08,380 233.6,380.17 234.12,380.34 234.64,380.5 235.16,380.67 235.68,380.83 236.2,381 236.72,381.16 237.24,381.32 237.76,381.49 238.28,381.65 238.8,381.81 239.31,381.97 239.83,382.13 240.35,382.29 240.87,382.45 241.39,382.61 241.91,382.77 242.43,382.92 242.95,383.08 243.47,383.23 243.99,383.39 244.51,383.54 245.03,383.7 245.55,383.85 246.06,384 246.58,384.15 247.1,384.3 247.62,384.45 248.14,384.6 248.66,384.75 249.18,384.89 249.7,385.04 250.22,385.18 250.74,385.33 251.26,385.47 251.78,385.61 252.3,385.75 252.81,385.89 253.33,386.03 253.85,386.16 254.37,386.3 254.89,386.43 255.41,386.56 255.93,386.69 256.45,386.82 256.97,386.95 257.49,387.07 258.01,387.2 258.53,387.32 259.05,387.44 259.57,387.56 260.08,387.68 260.6,387.79 261.12,387.9 261.64,388.02 262.16,388.13 262.68,388.23 263.2,388.34" fill="none" stroke="#7f00ff" stroke-width="1.8" stroke-linejoin="round" stroke-linecap="round"/>
<polyline points="55.5,380.52 56.02,380.6 56.54,380.65 57.06,380.69 57.58,380.72 58.1,380.73 58.62,380.63 59.13,380.51 59.65,380.39 60.17,380.27 60.69,380.15 61.21,380.03 61.73,379.91 62.25,379.79 62.77,379.67 63.29,379.55 63.81,379.42 64.33,379.28 64.85,379.13 65.37,378.96 65.89,378.77 66.4,378.56 66.92,378.32 67.44,378.05 67.96,377.73 68.48,377.37 69,376.96 69.52,376.48 70.04,375.94 70.56,375.32 71.08,374.62 71.6,373.84 72.12,372.99 72.64,372.05 73.15,371.03 73.67,369.94 74.19,368.76 74.71,367.51 75.23,366.19 75.75,364.8 76.27,363.34 76.79,361.83 77.31,360.25 77.83,358.63 78.35,356.97 78.87,355.27 79.39,353.55 79.9,351.8 80.42,350.03 80.94,348.26 81.46,346.48 81.98,344.71 82.5,342.95 83.02,341.19 83.54,339.46 84.06,337.75 84.58,336.06 85.1,334.39 85.62,332.76 86.14,331.15 86.66,329.57 87.17,328.03 87.69,326.52 88.21,325.05 88.73,323.61 89.25,322.21 89.77,320.85 90.29,319.52 90.81,318.23 91.33,316.98 91.85,315.77 92.37,314.59 92.89,313.42 93.41,312.25 93.92,311.06 94.44,309.84 94.96,308.57 95.48,307.24 96,305.84 96.52,304.38 97.04,302.85 97.56,301.25 98.08,299.6 98.6,297.91 99.12,296.2 99.64,294.48 100.16,292.78 100.67,291.12 101.19,290.33 101.71,289.55 102.23,288.79 102.75,288.05 103.27,287.33 103.79,286.63 104.31,285.95 104.83,285.3 105.35,284.66 105.87,284.05 106.39,283.46 106.91,282.89 107.42,282.35 107.94,281.83 108.46,281.34 108.98,280.87 109.5,280.42 110.02,280 110.54,279.61 111.06,279.24 111.58,278.9 112.1,278.59 112.62,278.31 113.14,278.05 113.66,277.82 114.18,277.61 114.69,277.44 115.21,277.29 115.73,277.17 116.25,277.08 116.77,277.02 117.29,276.98 117.81,276.97 118.33,276.99 118.85,277.04 119.37,277.1 119.89,277.19 120.41,277.3 120.93,277.43 121.44,277.59 121.96,277.77 122.48,277.97 123,278.19 123.52,278.44 124.04,278.71 124.56,279 125.08,279.32 125.6,279.67 126.12,280.04 126.64,280.43 127.16,280.84 127.68,281.28 128.19,281.74 128.71,282.23 129.23,282.74 129.75,283.26 130.27,283.81 130.79,284.39 131.31,284.98 131.83,285.59 132.35,286.22 132.87,286.87 133.39,287.54 133.91,288.23 134.43,288.94 134.95,289.66 135.46,290.4 135.98,291.15 136.5,291.92 137.02,292.7 137.54,293.5 138.06,294.31 138.58,295.13 139.1,295.96 139.62,296.81 140.14,297.66 140.66,298.52 141.18,299.39 141.7,300.27 142.21,301.16 142.73,302.05 143.25,302.95 143.77,303.85 144.29,304.76 144.81,305.67 145.33,306.58 145.85,307.5 146.37,308.41 146.89,309.33 147.41,310.25 147.93,311.17 148.45,312.09 148.97,313 149.48,313.92 150,314.83 150.52,315.74 151.04,316.64 151.56,317.54 152.08,318.44 152.6,319.33 153.12,320.22 153.64,321.1 154.16,321.98 154.68,322.85 155.2,323.71 155.72,324.56 156.23,325.41 156.75,326.25 157.27,327.09 157.79,327.91 158.31,328.73 158.83,329.54 159.35,330.34 159.87,331.13 160.39,331.92 160.91,332.69 161.43,333.45 161.95,334.21 162.47,334.96 162.98,335.69 163.5,336.42 164.02,337.14 164.54,337.85 165.06,338.55 165.58,339.24 166.1,339.92 166.62,340.59 167.14,341.25 167.66,341.9 168.18,342.54 168.7,343.18 169.22,343.8 169.74,344.41 170.25,345.02 170.77,345.61 171.29,346.2 171.81,346.78 172.33,347.35 172.85,347.91 173.37,348.46 173.89,349 174.41,349.53 174.93,350.06 175.45,350.57 175.97,351.08 176.49,351.58 177,352.07 177.52,352.56 178.04,353.03 178.56,353.5 179.08,353.96 179.6,354.41 180.12,354.86 180.64,355.3 181.16,355.73 181.68,356.15 182.2,356.57 182.72,356.98 183.24,357.38 183.75,357.78 184.27,358.17 184.79,358.56 185.31,358.94 185.83,359.31 186.35,359.67 186.87,360.03 187.39,360.39 187.91,360.74 188.43,361.08 188.95,361.42 189.47,361.75 189.99,362.08 190.5,362.41 191.02,362.72 191.54,363.04 192.06,363.35 192.58,363.65 193.1,363.95 193.62,364.25 194.14,364.54 194.66,364.83 195.18,365.11 195.7,365.39 196.22,365.67 196.74,365.94 197.26,366.21 197.77,366.47 198.29,366.74 198.81,366.99 199.33,367.25 199.85,367.5 200.37,367.75 200.89,368 201.41,368.24 201.93,368.48 202.45,368.72 202.97,368.96 203.49,369.19 204.01,369.42 204.52,369.65 205.04,369.88 205.56,370.1 206.08,370.32 206.6,370.54 207.12,370.76 207.64,370.98 208.16,371.19 208.68,371.4 209.2,371.61 209.72,371.82 210.24,372.03 210.76,372.23 211.27,372.43 211.79,372.64 212.31,372.84 212.83,373.03 213.35,373.23 213.87,373.43 214.39,373.62 214.91,373.82 215.43,374.01 215.95,374.2 216.47,374.39 216.99,374.58 217.51,374.77 218.03,374.95 218.54,375.14 219.06,375.33 219.58,375.51 220.1,375.69 220.62,375.87 221.14,376.06 221.66,376.24 222.18,376.42 222.7,376.6 223.22,376.77 223.74,376.95 224.26,377.13 224.78,377.3 225.29,377.48 225.81,377.65 226.33,377.83 226.85,378 227.37,378.18 227.89,378.35 228.41,378.52 228.93,378.69 229.45,378.86 229.97,379.03 230.49,379.2 231.01,379.37 231.53,379.54 232.04,379.71 232.56,379.87 233.08,380.04 233.6,380.21 234.12,380.37 234.64,380.54 235.16,380.7 235.68,380.87 236.2,381.03 236.72,381.19 237.24,381.36 237.76,381.52 238.28,381.68 238.8,381.84 239.31,382 239.83,382.16 240.35,382.32 240.87,382.48 241.39,382.64 241.91,382.79 242.43,382.95 242.95,383.11 243.47,383.26 243.99,383.42 244.51,383.57 245.03,383.72 245.55,383.87 246.06,384.03 246.58,384.18 247.1,384.32 247.62,384.47 248.14,384.62 248.66,384.77 249.18,384.91 249.7,385.06 250.22,385.2 250.74,385.34 251.26,385.48 251.78,385.62 252.3,385.76 252.81,385.9 253.33,386.04 253.85,386.17 254.37,386.31 254.89,386.44 255.41,386.57 255.93,386.7 256.45,386.83 256.97,386.95 257.49,387.08 258.01,387.2 258.53,387.32 259.05,387.44 259.57,387.56 260.08,387.68 260.6,387.79 261.12,387.9 261.64,388.01 262.16,388.12 262.68,388.23 263.2,388.33" fill="none" stroke="#1f4bff" stroke-width="1.8" stroke-linejoin="round" stroke-linecap="round"/>
<polyline points="55.5,379.19 56.02,379.19 56.54,379.17 57.06,379.12 57.58,379.07 58.1,378.99 58.62,378.89 59.13,378.78 59.65,378.64 60.17,378.48 60.69,378.54 61.21,378.86 61.73,379.07 62.25,379.18 62.77,379.19 63.29,379.1 63.81,378.93 64.33,378.67 64.85,378.33 65.37,377.91 65.89,377.42 66.4,376.86 66.92,376.25 67.44,375.59 67.96,374.86 68.48,374.09 69,373.25 69.52,372.36 70.04,371.41 70.56,370.4 71.08,369.33 71.6,368.21 72.12,367.03 72.64,365.79 73.15,364.5 73.67,363.16 74.19,361.78 74.71,360.34 75.23,358.86 75.75,357.34 76.27,355.78 76.79,354.19 77.31,352.56 77.83,350.9 78.35,349.22 78.87,347.52 79.39,345.8 79.9,344.06 80.42,342.31 80.94,340.55 81.46,338.79 81.98,337.03 82.5,335.27 83.02,333.52 83.54,331.79 84.06,330.06 84.58,328.35 85.1,326.66 85.62,324.99 86.14,323.35 86.66,321.73 87.17,320.14 87.69,318.58 88.21,317.04 88.73,315.54 89.25,314.07 89.77,312.62 90.29,311.18 90.81,309.75 91.33,308.32 91.85,306.88 92.37,305.44 92.89,303.98 93.41,302.51 93.92,301.03 94.44,299.53 94.96,298.03 95.48,296.52 96,295.02 96.52,293.52 97.04,292.03 97.56,291.01 98.08,290.05 98.6,289.12 99.12,288.2 99.64,287.31 100.16,286.43 100.67,285.58 101.19,284.75 101.71,283.95 102.23,283.16 102.75,282.41 103.27,281.68 103.79,280.97 104.31,280.3 104.83,279.65 105.35,279.02 105.87,278.43 106.39,277.87 106.91,277.33 107.42,276.83 107.94,276.35 108.46,275.91 108.98,275.5 109.5,275.11 110.02,274.77 110.54,274.45 111.06,274.17 111.58,273.92 112.1,273.7 112.62,273.52 113.14,273.37 113.66,273.25 114.18,273.17 114.69,273.12 115.21,273.1 115.73,273.12 116.25,273.15 116.77,273.2 117.29,273.26 117.81,273.34 118.33,273.44 118.85,273.55 119.37,273.69 119.89,273.83 120.41,274 120.93,274.18 121.44,274.38 121.96,274.59 122.48,274.82 123,275.07 123.52,275.33 124.04,275.61 124.56,275.9 125.08,276.21 125.6,276.54 126.12,276.88 126.64,277.23 127.16,277.6 127.68,277.99 128.19,278.39 128.71,278.81 129.23,279.24 129.75,279.68 130.27,280.14 130.79,280.62 131.31,281.1 131.83,281.67 132.35,282.26 132.87,282.87 133.39,283.5 133.91,284.14 134.43,284.81 134.95,285.5 135.46,286.2 135.98,286.93 136.5,287.67 137.02,288.42 137.54,289.2 138.06,289.99 138.58,290.8 139.1,291.62 139.62,292.46 140.14,293.31 140.66,294.17 141.18,295.05 141.7,295.94 142.21,296.84 142.73,297.75 143.25,298.67 143.77,299.6 144.29,300.54 144.81,301.48 145.33,302.43 145.85,303.39 146.37,304.36 146.89,305.33 147.41,306.3 147.93,307.27 148.45,308.25 148.97,309.23 149.48,310.21 150,311.19 150.52,312.17 151.04,313.15 151.56,314.13 152.08,315.11 152.6,316.08 153.12,317.05 153.64,318.01 154.16,318.97 154.68,319.93 155.2,320.87 155.72,321.82 156.23,322.75 156.75,323.68 157.27,324.6 157.79,325.52 158.31,326.42 158.83,327.32 159.35,328.21 159.87,329.08 160.39,329.95 160.91,330.81 161.43,331.66 161.95,332.5 162.47,333.33 162.98,334.14 163.5,334.95 164.02,335.74 164.54,336.53 165.06,337.3 165.58,338.06 166.1,338.81 166.62,339.55 167.14,340.28 167.66,341 168.18,341.7 168.7,342.4 169.22,343.08 169.74,343.75 170.25,344.41 170.77,345.06 171.29,345.7 171.81,346.33 172.33,346.94 172.85,347.55 173.37,348.14 173.89,348.73 174.41,349.3 174.93,349.86 175.45,350.42 175.97,350.96 176.49,351.49 177,352.01 177.52,352.53 178.04,353.03 178.56,353.53 179.08,354.01 179.6,354.49 180.12,354.96 180.64,355.42 181.16,355.87 181.68,356.31 182.2,356.74 182.72,357.17 183.24,357.59 183.75,358 184.27,358.4 184.79,358.8 185.31,359.19 185.83,359.57 186.35,359.94 186.87,360.31 187.39,360.67 187.91,361.03 188.43,361.38 188.95,361.72 189.47,362.06 189.99,362.39 190.5,362.71 191.02,363.03 191.54,363.35 192.06,363.66 192.58,363.96 193.1,364.26 193.62,364.55 194.14,364.84 194.66,365.13 195.18,365.41 195.7,365.69 196.22,365.96 196.74,366.23 197.26,366.49 197.77,366.75 198.29,367.01 198.81,367.26 199.33,367.51 199.85,367.76 200.37,368 200.89,368.24 201.41,368.47 201.93,368.71 202.45,368.94 202.97,369.17 203.49,369.39 204.01,369.61 204.52,369.83 205.04,370.05 205.56,370.27 206.08,370.48 206.6,370.69 207.12,370.9 207.64,371.1 208.16,371.31 208.68,371.51 209.2,371.71 209.72,371.91 210.24,372.11 210.76,372.3 211.27,372.5 211.79,372.69 212.31,372.88 212.83,373.07 213.35,373.26 213.87,373.45 214.39,373.63 214.91,373.82 215.43,374 215.95,374.18 216.47,374.36 216.99,374.54 217.51,374.72 218.03,374.9 218.54,375.08 219.06,375.26 219.58,375.43 220.1,375.61 220.62,375.78 221.14,375.96 221.66,376.13 222.18,376.3 222.7,376.48 223.22,376.65 223.74,376.82 224.26,376.99 224.78,377.16 225.29,377.33 225.81,377.5 226.33,377.67 226.85,377.84 227.37,378 227.89,378.17 228.41,378.34 228.93,378.51 229.45,378.67 229.97,378.84 230.49,379.01 231.01,379.17 231.53,379.34 232.04,379.5 232.56,379.67 233.08,379.83 233.6,380 234.12,380.16 234.64,380.32 235.16,380.49 235.68,380.65 236.2,380.82 236.72,380.98 237.24,381.14 237.76,381.3 238.28,381.47 238.8,381.63 239.31,381.79 239.83,381.95 240.35,382.11 240.87,382.27 241.39,382.43 241.91,382.59 242.43,382.75 242.95,382.91 243.47,383.07 243.99,383.22 244.51,383.38 245.03,383.54 245.55,383.69 246.06,383.85 246.58,384 247.1,384.16 247.62,384.31 248.14,384.46 248.66,384.61 249.18,384.77 249.7,384.92 250.22,385.06 250.74,385.21 251.26,385.36 251.78,385.51 252.3,385.65 252.81,385.79 253.33,385.94 253.85,386.08 254.37,386.22 254.89,386.36 255.41,386.5 255.93,386.63 256.45,386.77 256.97,386.9 257.49,387.03 258.01,387.16 258.53,387.29 259.05,387.42 259.57,387.54 260.08,387.66 260.6,387.78 261.12,387.9 261.64,388.02 262.16,388.13 262.68,388.25 263.2,388.36" fill="none" stroke="#007f00" stroke-width="1.8" stroke-linejoin="round" stroke-linecap="round"/>
<polyline points="55.5,377.53 56.02,377.63 56.54,377.71 57.06,377.77 57.58,377.81 58.1,377.83 58.62,377.83 59.13,377.8 59.65,377.76 60.17,377.69 60.69,377.59 61.21,377.47 61.73,377.33 62.25,377.16 62.77,376.9 63.29,376.31 63.81,375.68 64.33,375 64.85,374.28 65.37,373.52 65.89,372.72 66.4,371.88 66.92,371 67.44,370.09 67.96,369.13 68.48,368.14 69,367.11 69.52,366.05 70.04,364.95 70.56,363.81 71.08,362.63 71.6,361.42 72.12,360.17 72.64,358.88 73.15,357.55 73.67,356.18 74.19,354.77 74.71,353.32 75.23,351.83 75.75,350.3 76.27,348.73 76.79,347.12 77.31,345.47 77.83,343.77 78.35,342.04 78.87,340.27 79.39,338.48 79.9,336.65 80.42,334.81 80.94,332.94 81.46,331.06 81.98,329.17 82.5,327.27 83.02,325.37 83.54,323.47 84.06,321.58 84.58,319.69 85.1,317.81 85.62,315.96 86.14,314.12 86.66,312.3 87.17,310.5 87.69,308.74 88.21,307 88.73,305.3 89.25,303.63 89.77,302 90.29,300.41 90.81,298.85 91.33,297.34 91.85,295.86 92.37,294.43 92.89,293.04 93.41,291.69 93.92,290.38 94.44,289.11 94.96,287.88 95.48,286.7 96,285.55 96.52,284.45 97.04,283.38 97.56,282.35 98.08,281.36 98.6,280.4 99.12,279.48 99.64,278.6 100.16,277.75 100.67,276.93 101.19,276.14 101.71,275.32 102.23,274.48 102.75,273.69 103.27,272.93 103.79,272.21 104.31,271.53 104.83,270.89 105.35,270.3 105.87,269.74 106.39,269.23 106.91,268.76 107.42,268.34 107.94,267.96 108.46,267.63 108.98,267.34 109.5,267.1 110.02,266.9 110.54,266.75 111.06,266.65 111.58,266.59 112.1,266.59 112.62,266.61 113.14,266.65 113.66,266.71 114.18,266.79 114.69,266.88 115.21,267 115.73,267.13 116.25,267.28 116.77,267.44 117.29,267.63 117.81,267.83 118.33,268.05 118.85,268.29 119.37,268.54 119.89,268.81 120.41,269.1 120.93,269.41 121.44,269.73 121.96,270.07 122.48,270.43 123,270.8 123.52,271.19 124.04,271.6 124.56,272.02 125.08,272.46 125.6,272.91 126.12,273.38 126.64,273.87 127.16,274.37 127.68,274.88 128.19,275.41 128.71,275.96 129.23,276.51 129.75,277.09 130.27,277.67 130.79,278.27 131.31,278.89 131.83,279.51 132.35,280.21 132.87,280.95 133.39,281.7 133.91,282.47 134.43,283.25 134.95,284.05 135.46,284.87 135.98,285.7 136.5,286.54 137.02,287.4 137.54,288.27 138.06,289.16 138.58,290.06 139.1,290.96 139.62,291.88 140.14,292.81 140.66,293.75 141.18,294.7 141.7,295.65 142.21,296.61 142.73,297.58 143.25,298.56 143.77,299.54 144.29,300.52 144.81,301.51 145.33,302.5 145.85,303.49 146.37,304.49 146.89,305.49 147.41,306.48 147.93,307.48 148.45,308.48 148.97,309.47 149.48,310.46 150,311.45 150.52,312.44 151.04,313.42 151.56,314.4 152.08,315.38 152.6,316.35 153.12,317.31 153.64,318.27 154.16,319.22 154.68,320.16 155.2,321.1 155.72,322.03 156.23,322.95 156.75,323.86 157.27,324.77 157.79,325.66 158.31,326.55 158.83,327.43 159.35,328.29 159.87,329.15 160.39,330 160.91,330.84 161.43,331.67 161.95,332.48 162.47,333.29 162.98,334.08 163.5,334.87 164.02,335.64 164.54,336.41 165.06,337.16 165.58,337.9 166.1,338.63 166.62,339.35 167.14,340.06 167.66,340.76 168.18,341.45 168.7,342.13 169.22,342.79 169.74,343.45 170.25,344.09 170.77,344.73 171.29,345.35 171.81,345.96 172.33,346.57 172.85,347.16 173.37,347.74 173.89,348.32 174.41,348.88 174.93,349.44 175.45,349.98 175.97,350.52 176.49,351.04 177,351.56 177.52,352.07 178.04,352.57 178.56,353.06 179.08,353.54 179.6,354.01 180.12,354.48 180.64,354.94 181.16,355.38 181.68,355.83 182.2,356.26 182.72,356.69 183.24,357.11 183.75,357.52 184.27,357.92 184.79,358.32 185.31,358.71 185.83,359.1 186.35,359.47 186.87,359.85 187.39,360.21 187.91,360.57 188.43,360.93 188.95,361.27 189.47,361.62 189.99,361.95 190.5,362.28 191.02,362.61 191.54,362.93 192.06,363.25 192.58,363.56 193.1,363.87 193.62,364.17 194.14,364.47 194.66,364.76 195.18,365.05 195.7,365.33 196.22,365.61 196.74,365.89 197.26,366.16 197.77,366.43 198.29,366.7 198.81,366.96 199.33,367.22 199.85,367.47 200.37,367.72 200.89,367.97 201.41,368.22 201.93,368.46 202.45,368.7 202.97,368.94 203.49,369.17 204.01,369.41 204.52,369.63 205.04,369.86 205.56,370.09 206.08,370.31 206.6,370.53 207.12,370.75 207.64,370.96 208.16,371.18 208.68,371.39 209.2,371.6 209.72,371.8 210.24,372.01 210.76,372.21 211.27,372.42 211.79,372.62 212.31,372.82 212.83,373.02 213.35,373.21 213.87,373.41 214.39,373.6 214.91,373.8 215.43,373.99 215.95,374.18 216.47,374.37 216.99,374.55 217.51,374.74 218.03,374.93 218.54,375.11 219.06,375.29 219.58,375.48 220.1,375.66 220.62,375.84 221.14,376.02 221.66,376.2 222.18,376.38 222.7,376.56 223.22,376.73 223.74,376.91 224.26,377.09 224.78,377.26 225.29,377.43 225.81,377.61 226.33,377.78 226.85,377.95 227.37,378.13 227.89,378.3 228.41,378.47 228.93,378.64 229.45,378.81 229.97,378.98 230.49,379.15 231.01,379.32 231.53,379.48 232.04,379.65 232.56,379.82 233.08,379.99 233.6,380.15 234.12,380.32 234.64,380.48 235.16,380.65 235.68,380.81 236.2,380.97 236.72,381.14 237.24,381.3 237.76,381.46 238.28,381.62 238.8,381.79 239.31,381.95 239.83,382.11 240.35,382.27 240.87,382.43 241.39,382.58 241.91,382.74 242.43,382.9 242.95,383.06 243.47,383.21 243.99,383.37 244.51,383.52 245.03,383.67 245.55,383.83 246.06,383.98 246.58,384.13 247.1,384.28 247.62,384.43 248.14,384.58 248.66,384.73 249.18,384.88 249.7,385.02 250.22,385.17 250.74,385.31 251.26,385.45 251.78,385.59 252.3,385.73 252.81,385.87 253.33,386.01 253.85,386.15 254.37,386.28 254.89,386.42 255.41,386.55 255.93,386.68 256.45,386.81 256.97,386.94 257.49,387.07 258.01,387.19 258.53,387.31 259.05,387.44 259.57,387.56 260.08,387.67 260.6,387.79 261.12,387.9 261.64,388.02 262.16,388.13 262.68,388.24 263.2,388.34" fill="none" stroke="#99ee00" stroke-width="1.8" stroke-linejoin="round" stroke-linecap="round"/>
<polyline points="55.5,375.86 56.02,376.09 56.54,376.31 57.06,376.5 57.58,376.67 58.1,376.82 58.62,376.95 59.13,376.85 59.65,376.56 60.17,376.19 60.69,375.75 61.21,375.24 61.73,374.65 62.25,374 62.77,373.28 63.29,372.5 63.81,371.66 64.33,370.76 64.85,369.79 65.37,368.78 65.89,367.71 66.4,366.59 66.92,365.42 67.44,364.21 67.96,362.95 68.48,361.65 69,360.31 69.52,358.93 70.04,357.51 70.56,356.06 71.08,354.57 71.6,353.04 72.12,351.49 72.64,349.9 73.15,348.28 73.67,346.64 74.19,344.96 74.71,343.26 75.23,341.54 75.75,339.79 76.27,338.01 76.79,336.21 77.31,334.4 77.83,332.56 78.35,330.7 78.87,328.83 79.39,326.94 79.9,325.04 80.42,323.13 80.94,321.2 81.46,319.27 81.98,317.33 82.5,315.39 83.02,313.44 83.54,311.5 84.06,309.55 84.58,307.62 85.1,305.69 85.62,303.77 86.14,301.87 86.66,299.98 87.17,298.11 87.69,296.26 88.21,294.44 88.73,292.64 89.25,290.88 89.77,289.15 90.29,287.45 90.81,285.79 91.33,284.17 91.85,282.59 92.37,281.06 92.89,279.57 93.41,278.14 93.92,276.75 94.44,275.41 94.96,274.13 95.48,272.9 96,271.73 96.52,270.61 97.04,269.54 97.56,268.53 98.08,267.67 98.6,266.97 99.12,266.3 99.64,265.65 100.16,265.02 100.67,264.43 101.19,263.85 101.71,263.3 102.23,262.78 102.75,262.29 103.27,261.82 103.79,261.38 104.31,260.97 104.83,260.59 105.35,260.23 105.87,259.9 106.39,259.61 106.91,259.34 107.42,259.1 107.94,258.89 108.46,258.71 108.98,258.56 109.5,258.44 110.02,258.36 110.54,258.3 111.06,258.27 111.58,258.27 112.1,258.31 112.62,258.36 113.14,258.45 113.66,258.56 114.18,258.69 114.69,258.85 115.21,259.04 115.73,259.25 116.25,259.49 116.77,259.75 117.29,260.04 117.81,260.35 118.33,260.69 118.85,261.05 119.37,261.44 119.89,261.85 120.41,262.29 120.93,262.75 121.44,263.23 121.96,263.73 122.48,264.26 123,264.82 123.52,265.39 124.04,265.99 124.56,266.61 125.08,267.26 125.6,267.93 126.12,268.62 126.64,269.33 127.16,270.06 127.68,270.81 128.19,271.58 128.71,272.37 129.23,273.17 129.75,273.99 130.27,274.83 130.79,275.68 131.31,276.55 131.83,277.43 132.35,278.33 132.87,279.24 133.39,280.16 133.91,281.09 134.43,282.03 134.95,282.98 135.46,283.94 135.98,284.92 136.5,285.89 137.02,286.88 137.54,287.87 138.06,288.87 138.58,289.87 139.1,290.88 139.62,291.9 140.14,292.91 140.66,293.93 141.18,294.95 141.7,295.97 142.21,297 142.73,298.02 143.25,299.04 143.77,300.07 144.29,301.09 144.81,302.11 145.33,303.13 145.85,304.14 146.37,305.15 146.89,306.16 147.41,307.16 147.93,308.16 148.45,309.16 148.97,310.15 149.48,311.13 150,312.11 150.52,313.08 151.04,314.04 151.56,315 152.08,315.95 152.6,316.89 153.12,317.83 153.64,318.76 154.16,319.68 154.68,320.59 155.2,321.49 155.72,322.38 156.23,323.27 156.75,324.14 157.27,325.01 157.79,325.87 158.31,326.71 158.83,327.55 159.35,328.38 159.87,329.2 160.39,330.01 160.91,330.81 161.43,331.6 161.95,332.38 162.47,333.15 162.98,333.91 163.5,334.66 164.02,335.4 164.54,336.13 165.06,336.85 165.58,337.56 166.1,338.26 166.62,338.95 167.14,339.63 167.66,340.3 168.18,340.96 168.7,341.62 169.22,342.26 169.74,342.89 170.25,343.52 170.77,344.13 171.29,344.74 171.81,345.33 172.33,345.92 172.85,346.5 173.37,347.07 173.89,347.63 174.41,348.18 174.93,348.73 175.45,349.26 175.97,349.79 176.49,350.31 177,350.82 177.52,351.32 178.04,351.82 178.56,352.31 179.08,352.79 179.6,353.26 180.12,353.72 180.64,354.18 181.16,354.63 181.68,355.07 182.2,355.51 182.72,355.94 183.24,356.36 183.75,356.77 184.27,357.18 184.79,357.59 185.31,357.98 185.83,358.37 186.35,358.75 186.87,359.13 187.39,359.5 187.91,359.87 188.43,360.23 188.95,360.59 189.47,360.94 189.99,361.28 190.5,361.62 191.02,361.95 191.54,362.28 192.06,362.61 192.58,362.93 193.1,363.24 193.62,363.56 194.14,363.86 194.66,364.16 195.18,364.46 195.7,364.76 196.22,365.05 196.74,365.34 197.26,365.62 197.77,365.9 198.29,366.18 198.81,366.45 199.33,366.72 199.85,366.98 200.37,367.25 200.89,367.51 201.41,367.76 201.93,368.02 202.45,368.27 202.97,368.52 203.49,368.76 204.01,369.01 204.52,369.25 205.04,369.49 205.56,369.72 206.08,369.96 206.6,370.19 207.12,370.42 207.64,370.65 208.16,370.87 208.68,371.09 209.2,371.31 209.72,371.53 210.24,371.75 210.76,371.97 211.27,372.18 211.79,372.39 212.31,372.6 212.83,372.81 213.35,373.02 213.87,373.23 214.39,373.43 214.91,373.63 215.43,373.83 215.95,374.03 216.47,374.23 216.99,374.43 217.51,374.63 218.03,374.82 218.54,375.02 219.06,375.21 219.58,375.4 220.1,375.59 220.62,375.78 221.14,375.97 221.66,376.16 222.18,376.35 222.7,376.53 223.22,376.72 223.74,376.9 224.26,377.08 224.78,377.27 225.29,377.45 225.81,377.63 226.33,377.81 226.85,377.99 227.37,378.17 227.89,378.34 228.41,378.52 228.93,378.7 229.45,378.87 229.97,379.05 230.49,379.22 231.01,379.39 231.53,379.57 232.04,379.74 232.56,379.91 233.08,380.08 233.6,380.25 234.12,380.42 234.64,380.59 235.16,380.75 235.68,380.92 236.2,381.09 236.72,381.25 237.24,381.42 237.76,381.58 238.28,381.74 238.8,381.91 239.31,382.07 239.83,382.23 240.35,382.39 240.87,382.55 241.39,382.71 241.91,382.86 242.43,383.02 242.95,383.18 243.47,383.33 243.99,383.49 244.51,383.64 245.03,383.79 245.55,383.94 246.06,384.09 246.58,384.24 247.1,384.39 247.62,384.54 248.14,384.68 248.66,384.83 249.18,384.97 249.7,385.12 250.22,385.26 250.74,385.4 251.26,385.54 251.78,385.68 252.3,385.81 252.81,385.95 253.33,386.08 253.85,386.21 254.37,386.35 254.89,386.48 255.41,386.6 255.93,386.73 256.45,386.86 256.97,386.98 257.49,387.1 258.01,387.22 258.53,387.34 259.05,387.46 259.57,387.57 260.08,387.69 260.6,387.8 261.12,387.91 261.64,388.02 262.16,388.12 262.68,388.23 263.2,388.33" fill="none" stroke="#a67c00" stroke-width="1.8" stroke-linejoin="round" stroke-linecap="round"/>
<polyline points="55.5,372.86 56.02,372.64 56.54,372.4 57.06,372.11 57.58,371.79 58.1,371.43 58.62,371.03 59.13,370.59 59.65,370.11 60.17,369.59 60.69,369.02 61.21,368.41 61.73,367.76 62.25,367.06 62.77,366.31 63.29,365.51 63.81,364.66 64.33,363.76 64.85,362.81 65.37,361.81 65.89,360.75 66.4,359.65 66.92,358.48 67.44,357.27 67.96,356 68.48,354.68 69,353.31 69.52,351.89 70.04,350.41 70.56,348.89 71.08,347.31 71.6,345.69 72.12,344.03 72.64,342.32 73.15,340.58 73.67,338.79 74.19,336.97 74.71,335.12 75.23,333.23 75.75,331.33 76.27,329.39 76.79,327.44 77.31,325.47 77.83,323.49 78.35,321.5 78.87,319.5 79.39,317.5 79.9,315.5 80.42,313.51 80.94,311.51 81.46,309.5 81.98,307.47 82.5,305.42 83.02,303.34 83.54,301.23 84.06,299.1 84.58,296.95 85.1,294.78 85.62,292.61 86.14,290.44 86.66,288.28 87.17,286.16 87.69,284.08 88.21,282.06 88.73,280.11 89.25,278.25 89.77,276.49 90.29,274.84 90.81,273.3 91.33,271.89 91.85,270.61 92.37,269.44 92.89,268.81 93.41,268.2 93.92,267.63 94.44,267.08 94.96,266.57 95.48,266.09 96,265.64 96.52,265.22 97.04,264.83 97.56,264.47 98.08,264.15 98.6,263.86 99.12,263.61 99.64,263.39 100.16,263.2 100.67,263.05 101.19,262.93 101.71,262.84 102.23,262.79 102.75,262.77 103.27,262.78 103.79,262.8 104.31,262.84 104.83,262.9 105.35,262.97 105.87,263.06 106.39,263.16 106.91,263.28 107.42,263.41 107.94,263.56 108.46,263.73 108.98,263.91 109.5,264.1 110.02,264.31 110.54,264.54 111.06,264.78 111.58,265.04 112.1,265.31 112.62,265.6 113.14,265.9 113.66,266.21 114.18,266.54 114.69,266.89 115.21,267.25 115.73,267.62 116.25,268.01 116.77,268.41 117.29,268.82 117.81,269.25 118.33,269.69 118.85,270.15 119.37,270.62 119.89,271.1 120.41,271.59 120.93,272.1 121.44,272.62 121.96,273.15 122.48,273.7 123,274.25 123.52,274.82 124.04,275.4 124.56,275.99 125.08,276.59 125.6,277.2 126.12,277.82 126.64,278.46 127.16,279.1 127.68,279.75 128.19,280.46 128.71,281.24 129.23,282.04 129.75,282.85 130.27,283.68 130.79,284.52 131.31,285.37 131.83,286.23 132.35,287.11 132.87,287.99 133.39,288.89 133.91,289.79 134.43,290.71 134.95,291.63 135.46,292.57 135.98,293.51 136.5,294.45 137.02,295.41 137.54,296.36 138.06,297.33 138.58,298.3 139.1,299.27 139.62,300.24 140.14,301.22 140.66,302.2 141.18,303.18 141.7,304.16 142.21,305.14 142.73,306.13 143.25,307.11 143.77,308.09 144.29,309.06 144.81,310.04 145.33,311.01 145.85,311.98 146.37,312.94 146.89,313.9 147.41,314.86 147.93,315.81 148.45,316.75 148.97,317.69 149.48,318.62 150,319.55 150.52,320.47 151.04,321.38 151.56,322.28 152.08,323.17 152.6,324.06 153.12,324.94 153.64,325.81 154.16,326.67 154.68,327.52 155.2,328.36 155.72,329.19 156.23,330.01 156.75,330.82 157.27,331.63 157.79,332.42 158.31,333.2 158.83,333.97 159.35,334.73 159.87,335.48 160.39,336.23 160.91,336.96 161.43,337.68 161.95,338.39 162.47,339.09 162.98,339.77 163.5,340.45 164.02,341.12 164.54,341.78 165.06,342.43 165.58,343.07 166.1,343.69 166.62,344.31 167.14,344.92 167.66,345.52 168.18,346.11 168.7,346.69 169.22,347.26 169.74,347.82 170.25,348.37 170.77,348.91 171.29,349.44 171.81,349.97 172.33,350.48 172.85,350.99 173.37,351.49 173.89,351.97 174.41,352.46 174.93,352.93 175.45,353.4 175.97,353.85 176.49,354.3 177,354.75 177.52,355.18 178.04,355.61 178.56,356.03 179.08,356.44 179.6,356.85 180.12,357.25 180.64,357.64 181.16,358.03 181.68,358.41 182.2,358.79 182.72,359.15 183.24,359.52 183.75,359.87 184.27,360.22 184.79,360.57 185.31,360.91 185.83,361.25 186.35,361.58 186.87,361.9 187.39,362.22 187.91,362.54 188.43,362.85 188.95,363.15 189.47,363.46 189.99,363.75 190.5,364.05 191.02,364.34 191.54,364.62 192.06,364.9 192.58,365.18 193.1,365.45 193.62,365.72 194.14,365.98 194.66,366.25 195.18,366.51 195.7,366.76 196.22,367.01 196.74,367.26 197.26,367.51 197.77,367.75 198.29,367.99 198.81,368.23 199.33,368.46 199.85,368.69 200.37,368.92 200.89,369.14 201.41,369.37 201.93,369.59 202.45,369.81 202.97,370.02 203.49,370.24 204.01,370.45 204.52,370.66 205.04,370.86 205.56,371.07 206.08,371.27 206.6,371.47 207.12,371.67 207.64,371.87 208.16,372.07 208.68,372.26 209.2,372.45 209.72,372.65 210.24,372.83 210.76,373.02 211.27,373.21 211.79,373.39 212.31,373.58 212.83,373.76 213.35,373.94 213.87,374.12 214.39,374.3 214.91,374.47 215.43,374.65 215.95,374.83 216.47,375 216.99,375.17 217.51,375.34 218.03,375.51 218.54,375.68 219.06,375.85 219.58,376.02 220.1,376.19 220.62,376.35 221.14,376.52 221.66,376.68 222.18,376.85 222.7,377.01 223.22,377.17 223.74,377.33 224.26,377.49 224.78,377.65 225.29,377.81 225.81,377.97 226.33,378.13 226.85,378.29 227.37,378.44 227.89,378.6 228.41,378.75 228.93,378.91 229.45,379.06 229.97,379.22 230.49,379.37 231.01,379.52 231.53,379.67 232.04,379.82 232.56,379.97 233.08,380.12 233.6,380.27 234.12,380.42 234.64,380.57 235.16,380.72 235.68,380.86 236.2,381.01 236.72,381.16 237.24,381.3 237.76,381.44 238.28,381.59 238.8,381.73 239.31,381.87 239.83,382.02 240.35,382.16 240.87,382.3 241.39,382.44 241.91,382.57 242.43,382.71 242.95,382.85 243.47,382.99 243.99,383.12 244.51,383.26 245.03,383.39 245.55,383.53 246.06,383.66 246.58,383.79 247.1,383.92 247.62,384.05 248.14,384.18 248.66,384.31 249.18,384.44 249.7,384.57 250.22,384.69 250.74,384.82 251.26,384.95 251.78,385.07 252.3,385.19 252.81,385.31 253.33,385.43 253.85,385.55 254.37,385.67 254.89,385.79 255.41,385.91 255.93,386.02 256.45,386.14 256.97,386.25 257.49,386.36 258.01,386.47 258.53,386.58 259.05,386.69 259.57,386.8 260.08,386.91 260.6,387.01 261.12,387.12 261.64,387.22 262.16,387.32 262.68,387.42 263.2,387.52" fill="none" stroke="#ffff00" stroke-width="1.8" stroke-linejoin="round" stroke-linecap="round"/>
<polyline points="55.5,370.08 56.02,369.5 56.54,368.91 57.06,368.31 57.58,367.69 58.1,367.05 58.62,366.39 59.13,365.71 59.65,365.01 60.17,364.29 60.69,363.53 61.21,362.74 61.73,361.92 62.25,361.06 62.77,360.17 63.29,359.23 63.81,358.25 64.33,357.22 64.85,356.14 65.37,355.01 65.89,353.82 66.4,352.58 66.92,351.27 67.44,349.91 67.96,348.48 68.48,346.98 69,345.41 69.52,343.78 70.04,342.08 70.56,340.31 71.08,338.47 71.6,336.57 72.12,334.6 72.64,332.56 73.15,330.47 73.67,328.32 74.19,326.12 74.71,323.87 75.23,321.59 75.75,319.27 76.27,316.92 76.79,314.55 77.31,312.17 77.83,309.79 78.35,307.41 78.87,305.05 79.39,302.71 79.9,300.4 80.42,298.13 80.94,295.91 81.46,293.73 81.98,291.62 82.5,289.57 83.02,287.6 83.54,285.7 84.06,283.88 84.58,282.14 85.1,280.48 85.62,278.91 86.14,277.43 86.66,276.03 87.17,274.72 87.69,273.5 88.21,272.35 88.73,271.29 89.25,270.3 89.77,269.39 90.29,268.55 90.81,267.78 91.33,267.08 91.85,266.44 92.37,265.85 92.89,265.5 93.41,265.17 93.92,264.85 94.44,264.54 94.96,264.25 95.48,263.97 96,263.71 96.52,263.46 97.04,263.23 97.56,263.02 98.08,262.81 98.6,262.63 99.12,262.46 99.64,262.3 100.16,262.16 100.67,262.04 101.19,261.93 101.71,261.84 102.23,261.76 102.75,261.7 103.27,261.65 103.79,261.62 104.31,261.61 104.83,261.61 105.35,261.64 105.87,261.68 106.39,261.75 106.91,261.84 107.42,261.96 107.94,262.09 108.46,262.25 108.98,262.43 109.5,262.63 110.02,262.86 110.54,263.1 111.06,263.37 111.58,263.66 112.1,263.97 112.62,264.3 113.14,264.65 113.66,265.02 114.18,265.41 114.69,265.83 115.21,266.27 115.73,266.73 116.25,267.22 116.77,267.72 117.29,268.24 117.81,268.79 118.33,269.35 118.85,269.93 119.37,270.53 119.89,271.16 120.41,271.79 120.93,272.45 121.44,273.12 121.96,273.81 122.48,274.52 123,275.24 123.52,275.98 124.04,276.74 124.56,277.5 125.08,278.28 125.6,279.08 126.12,279.89 126.64,280.71 127.16,281.54 127.68,282.39 128.19,283.24 128.71,284.11 129.23,284.98 129.75,285.87 130.27,286.76 130.79,287.66 131.31,288.57 131.83,289.48 132.35,290.41 132.87,291.33 133.39,292.27 133.91,293.21 134.43,294.15 134.95,295.09 135.46,296.04 135.98,297 136.5,297.95 137.02,298.91 137.54,299.87 138.06,300.83 138.58,301.78 139.1,302.74 139.62,303.7 140.14,304.66 140.66,305.62 141.18,306.57 141.7,307.52 142.21,308.47 142.73,309.42 143.25,310.36 143.77,311.3 144.29,312.24 144.81,313.17 145.33,314.1 145.85,315.02 146.37,315.93 146.89,316.84 147.41,317.75 147.93,318.65 148.45,319.54 148.97,320.43 149.48,321.31 150,322.18 150.52,323.04 151.04,323.9 151.56,324.75 152.08,325.6 152.6,326.43 153.12,327.26 153.64,328.08 154.16,328.89 154.68,329.69 155.2,330.48 155.72,331.27 156.23,332.04 156.75,332.81 157.27,333.57 157.79,334.32 158.31,335.06 158.83,335.79 159.35,336.52 159.87,337.23 160.39,337.94 160.91,338.63 161.43,339.32 161.95,340 162.47,340.67 162.98,341.33 163.5,341.98 164.02,342.62 164.54,343.26 165.06,343.88 165.58,344.5 166.1,345.11 166.62,345.71 167.14,346.3 167.66,346.88 168.18,347.45 168.7,348.01 169.22,348.57 169.74,349.12 170.25,349.66 170.77,350.19 171.29,350.71 171.81,351.23 172.33,351.73 172.85,352.23 173.37,352.72 173.89,353.21 174.41,353.68 174.93,354.15 175.45,354.61 175.97,355.07 176.49,355.51 177,355.95 177.52,356.38 178.04,356.81 178.56,357.23 179.08,357.64 179.6,358.04 180.12,358.44 180.64,358.83 181.16,359.22 181.68,359.6 182.2,359.97 182.72,360.33 183.24,360.69 183.75,361.05 184.27,361.4 184.79,361.74 185.31,362.08 185.83,362.41 186.35,362.74 186.87,363.06 187.39,363.38 187.91,363.69 188.43,364 188.95,364.3 189.47,364.6 189.99,364.89 190.5,365.18 191.02,365.46 191.54,365.74 192.06,366.02 192.58,366.29 193.1,366.56 193.62,366.82 194.14,367.08 194.66,367.34 195.18,367.59 195.7,367.84 196.22,368.09 196.74,368.33 197.26,368.57 197.77,368.81 198.29,369.04 198.81,369.27 199.33,369.5 199.85,369.72 200.37,369.94 200.89,370.16 201.41,370.38 201.93,370.59 202.45,370.8 202.97,371.01 203.49,371.22 204.01,371.42 204.52,371.62 205.04,371.82 205.56,372.02 206.08,372.21 206.6,372.41 207.12,372.6 207.64,372.79 208.16,372.97 208.68,373.16 209.2,373.34 209.72,373.52 210.24,373.7 210.76,373.88 211.27,374.06 211.79,374.23 212.31,374.41 212.83,374.58 213.35,374.75 213.87,374.92 214.39,375.09 214.91,375.25 215.43,375.42 215.95,375.58 216.47,375.74 216.99,375.91 217.51,376.07 218.03,376.23 218.54,376.38 219.06,376.54 219.58,376.7 220.1,376.85 220.62,377.01 221.14,377.16 221.66,377.31 222.18,377.46 222.7,377.61 223.22,377.76 223.74,377.91 224.26,378.06 224.78,378.2 225.29,378.35 225.81,378.5 226.33,378.64 226.85,378.78 227.37,378.93 227.89,379.07 228.41,379.21 228.93,379.35 229.45,379.49 229.97,379.63 230.49,379.77 231.01,379.91 231.53,380.05 232.04,380.19 232.56,380.32 233.08,380.46 233.6,380.6 234.12,380.73 234.64,380.87 235.16,381 235.68,381.13 236.2,381.27 236.72,381.4 237.24,381.53 237.76,381.66 238.28,381.79 238.8,381.92 239.31,382.05 239.83,382.18 240.35,382.31 240.87,382.44 241.39,382.57 241.91,382.7 242.43,382.82 242.95,382.95 243.47,383.07 243.99,383.2 244.51,383.32 245.03,383.45 245.55,383.57 246.06,383.69 246.58,383.82 247.1,383.94 247.62,384.06 248.14,384.18 248.66,384.3 249.18,384.42 249.7,384.54 250.22,384.66 250.74,384.77 251.26,384.89 251.78,385.01 252.3,385.12 252.81,385.24 253.33,385.35 253.85,385.46 254.37,385.58 254.89,385.69 255.41,385.8 255.93,385.91 256.45,386.02 256.97,386.13 257.49,386.23 258.01,386.34 258.53,386.45 259.05,386.55 259.57,386.66 260.08,386.76 260.6,386.86 261.12,386.96 261.64,387.06 262.16,387.16 262.68,387.26 263.2,387.36" fill="none" stroke="#ff7f00" stroke-width="1.8" stroke-linejoin="round" stroke-linecap="round"/>
<polyline points="55.5,358.5 56.02,357.61 56.54,356.65 57.06,355.62 57.58,354.51 58.1,353.33 58.62,352.07 59.13,350.74 59.65,349.34 60.17,347.86 60.69,346.32 61.21,344.71 61.73,343.03 62.25,341.29 62.77,339.48 63.29,337.62 63.81,335.7 64.33,333.73 64.85,331.72 65.37,329.66 65.89,327.56 66.4,325.43 66.92,323.26 67.44,321.07 67.96,318.86 68.48,316.64 69,314.4 69.52,312.15 70.04,309.91 70.56,307.66 71.08,305.42 71.6,303.19 72.12,300.97 72.64,298.78 73.15,296.6 73.67,294.44 74.19,292.32 74.71,290.22 75.23,288.15 75.75,286.12 76.27,284.12 76.79,282.16 77.31,280.24 77.83,278.36 78.35,276.52 78.87,274.73 79.39,272.97 79.9,271.26 80.42,269.6 80.94,267.98 81.46,266.4 81.98,264.87 82.5,263.39 83.02,261.96 83.54,260.58 84.06,259.24 84.58,257.96 85.1,256.74 85.62,255.57 86.14,254.46 86.66,253.42 87.17,252.31 87.69,251.35 88.21,250.55 88.73,249.91 89.25,249.43 89.77,249.11 90.29,248.96 90.81,248.98 91.33,249.16 91.85,249.5 92.37,250 92.89,250.65 93.41,251.47 93.92,252.44 94.44,253.44 94.96,254.04 95.48,254.62 96,255.18 96.52,255.72 97.04,256.25 97.56,256.77 98.08,257.28 98.6,257.79 99.12,258.29 99.64,258.78 100.16,259.27 100.67,259.77 101.19,260.26 101.71,260.75 102.23,261.24 102.75,261.74 103.27,262.24 103.79,262.74 104.31,263.25 104.83,263.77 105.35,264.29 105.87,264.81 106.39,265.34 106.91,265.88 107.42,266.43 107.94,266.99 108.46,267.55 108.98,268.12 109.5,268.7 110.02,269.29 110.54,269.89 111.06,270.5 111.58,271.12 112.1,271.75 112.62,272.39 113.14,273.04 113.66,273.7 114.18,274.37 114.69,275.06 115.21,275.75 115.73,276.45 116.25,277.17 116.77,277.9 117.29,278.64 117.81,279.39 118.33,280.15 118.85,280.92 119.37,281.7 119.89,282.49 120.41,283.3 120.93,284.11 121.44,284.94 121.96,285.77 122.48,286.62 123,287.47 123.52,288.34 124.04,289.21 124.56,290.09 125.08,290.98 125.6,291.87 126.12,292.77 126.64,293.68 127.16,294.6 127.68,295.52 128.19,296.44 128.71,297.37 129.23,298.3 129.75,299.24 130.27,300.17 130.79,301.11 131.31,302.05 131.83,302.98 132.35,303.92 132.87,304.85 133.39,305.78 133.91,306.7 134.43,307.63 134.95,308.55 135.46,309.47 135.98,310.38 136.5,311.29 137.02,312.2 137.54,313.1 138.06,314 138.58,314.89 139.1,315.78 139.62,316.67 140.14,317.55 140.66,318.42 141.18,319.29 141.7,320.16 142.21,321.02 142.73,321.87 143.25,322.72 143.77,323.56 144.29,324.4 144.81,325.23 145.33,326.06 145.85,326.87 146.37,327.69 146.89,328.49 147.41,329.29 147.93,330.09 148.45,330.87 148.97,331.65 149.48,332.43 150,333.19 150.52,333.95 151.04,334.7 151.56,335.45 152.08,336.19 152.6,336.92 153.12,337.64 153.64,338.36 154.16,339.07 154.68,339.77 155.2,340.47 155.72,341.16 156.23,341.84 156.75,342.51 157.27,343.18 157.79,343.84 158.31,344.49 158.83,345.14 159.35,345.77 159.87,346.4 160.39,347.03 160.91,347.64 161.43,348.25 161.95,348.85 162.47,349.44 162.98,350.03 163.5,350.61 164.02,351.18 164.54,351.74 165.06,352.3 165.58,352.85 166.1,353.39 166.62,353.93 167.14,354.46 167.66,354.98 168.18,355.49 168.7,356 169.22,356.5 169.74,356.99 170.25,357.48 170.77,357.96 171.29,358.43 171.81,358.9 172.33,359.36 172.85,359.81 173.37,360.26 173.89,360.7 174.41,361.13 174.93,361.56 175.45,361.98 175.97,362.39 176.49,362.8 177,363.2 177.52,363.6 178.04,363.98 178.56,364.36 179.08,364.74 179.6,365.1 180.12,365.46 180.64,365.81 181.16,366.16 181.68,366.5 182.2,366.83 182.72,367.15 183.24,367.47 183.75,367.78 184.27,368.08 184.79,368.38 185.31,368.67 185.83,368.95 186.35,369.22 186.87,369.49 187.39,369.75 187.91,370.01 188.43,370.26 188.95,370.51 189.47,370.74 189.99,370.98 190.5,371.21 191.02,371.43 191.54,371.65 192.06,371.87 192.58,372.08 193.1,372.29 193.62,372.49 194.14,372.69 194.66,372.89 195.18,373.09 195.7,373.28 196.22,373.47 196.74,373.65 197.26,373.84 197.77,374.02 198.29,374.2 198.81,374.37 199.33,374.55 199.85,374.72 200.37,374.89 200.89,375.06 201.41,375.23 201.93,375.4 202.45,375.56 202.97,375.73 203.49,375.89 204.01,376.06 204.52,376.22 205.04,376.38 205.56,376.54 206.08,376.7 206.6,376.86 207.12,377.02 207.64,377.18 208.16,377.34 208.68,377.5 209.2,377.66 209.72,377.82 210.24,377.98 210.76,378.14 211.27,378.3 211.79,378.46 212.31,378.62 212.83,378.78 213.35,378.94 213.87,379.11 214.39,379.27 214.91,379.42 215.43,379.58 215.95,379.74 216.47,379.9 216.99,380.05 217.51,380.21 218.03,380.36 218.54,380.51 219.06,380.66 219.58,380.81 220.1,380.95 220.62,381.1 221.14,381.24 221.66,381.38 222.18,381.52 222.7,381.65 223.22,381.79 223.74,381.92 224.26,382.04 224.78,382.17 225.29,382.29 225.81,382.41 226.33,382.53 226.85,382.65 227.37,382.76 227.89,382.87 228.41,382.98 228.93,383.08 229.45,383.18 229.97,383.28 230.49,383.37 231.01,383.46 231.53,383.55 232.04,383.64 232.56,383.72 233.08,383.8 233.6,383.88 234.12,383.95 234.64,384.02 235.16,384.09 235.68,384.15 236.2,384.21 236.72,384.27 237.24,384.33 237.76,384.38 238.28,384.43 238.8,384.47 239.31,384.52 239.83,384.56 240.35,384.6 240.87,384.64 241.39,384.68 241.91,384.72 242.43,384.76 242.95,384.8 243.47,384.83 243.99,384.87 244.51,384.92 245.03,384.96 245.55,385 246.06,385.05 246.58,385.1 247.1,385.15 247.62,385.2 248.14,385.25 248.66,385.31 249.18,385.37 249.7,385.44 250.22,385.51 250.74,385.58 251.26,385.65 251.78,385.73 252.3,385.81 252.81,385.9 253.33,385.99 253.85,386.09 254.37,386.19 254.89,386.29 255.41,386.4 255.93,386.51 256.45,386.63 256.97,386.75 257.49,386.87 258.01,387 258.53,387.13 259.05,387.26 259.57,387.4 260.08,387.54 260.6,387.68 261.12,387.82 261.64,387.97 262.16,388.12 262.68,388.27 263.2,388.41" fill="none" stroke="#ff2fc0" stroke-width="1.8" stroke-linejoin="round" stroke-linecap="round"/>
<polyline points="55.5,339.8 56.02,338.91 56.54,337.97 57.06,336.95 57.58,335.87 58.1,334.73 58.62,333.52 59.13,332.26 59.65,330.93 60.17,329.55 60.69,328.11 61.21,326.62 61.73,325.08 62.25,323.49 62.77,321.85 63.29,320.18 63.81,318.46 64.33,316.7 64.85,314.91 65.37,313.09 65.89,311.24 66.4,309.37 66.92,307.48 67.44,305.58 67.96,303.66 68.48,301.73 69,299.79 69.52,297.85 70.04,295.91 70.56,293.98 71.08,292.05 71.6,290.13 72.12,288.22 72.64,286.32 73.15,284.44 73.67,282.58 74.19,280.74 74.71,278.92 75.23,277.13 75.75,275.36 76.27,273.62 76.79,271.91 77.31,270.23 77.83,268.59 78.35,266.98 78.87,265.41 79.39,263.88 79.9,262.4 80.42,260.96 80.94,259.57 81.46,258.24 81.98,256.97 82.5,255.78 83.02,254.59 83.54,253.45 84.06,252.52 84.58,251.8 85.1,251.3 85.62,251.02 86.14,250.95 86.66,251.05 87.17,251.29 87.69,251.67 88.21,252.18 88.73,252.84 89.25,253.62 89.77,254.5 90.29,255.26 90.81,256.05 91.33,256.86 91.85,257.68 92.37,258.5 92.89,259.34 93.41,260.17 93.92,261.01 94.44,261.85 94.96,262.69 95.48,263.53 96,264.37 96.52,265.21 97.04,266.04 97.56,266.88 98.08,267.71 98.6,268.54 99.12,269.37 99.64,270.2 100.16,271.03 100.67,271.85 101.19,272.68 101.71,273.5 102.23,274.33 102.75,275.15 103.27,275.98 103.79,276.81 104.31,277.63 104.83,278.46 105.35,279.28 105.87,280.11 106.39,280.94 106.91,281.77 107.42,282.6 107.94,283.43 108.46,284.27 108.98,285.1 109.5,285.94 110.02,286.78 110.54,287.62 111.06,288.46 111.58,289.3 112.1,290.15 112.62,290.99 113.14,291.84 113.66,292.69 114.18,293.54 114.69,294.4 115.21,295.25 115.73,296.11 116.25,296.97 116.77,297.83 117.29,298.69 117.81,299.55 118.33,300.41 118.85,301.28 119.37,302.14 119.89,303.01 120.41,303.88 120.93,304.74 121.44,305.61 121.96,306.48 122.48,307.35 123,308.21 123.52,309.08 124.04,309.95 124.56,310.81 125.08,311.68 125.6,312.54 126.12,313.4 126.64,314.26 127.16,315.12 127.68,315.98 128.19,316.83 128.71,317.68 129.23,318.53 129.75,319.38 130.27,320.22 130.79,321.06 131.31,321.89 131.83,322.72 132.35,323.55 132.87,324.37 133.39,325.19 133.91,326 134.43,326.8 134.95,327.6 135.46,328.4 135.98,329.19 136.5,329.97 137.02,330.74 137.54,331.51 138.06,332.27 138.58,333.03 139.1,333.77 139.62,334.51 140.14,335.24 140.66,335.97 141.18,336.68 141.7,337.39 142.21,338.09 142.73,338.78 143.25,339.46 143.77,340.14 144.29,340.81 144.81,341.47 145.33,342.12 145.85,342.77 146.37,343.41 146.89,344.04 147.41,344.66 147.93,345.28 148.45,345.89 148.97,346.49 149.48,347.08 150,347.67 150.52,348.25 151.04,348.82 151.56,349.39 152.08,349.95 152.6,350.5 153.12,351.05 153.64,351.58 154.16,352.12 154.68,352.64 155.2,353.16 155.72,353.67 156.23,354.18 156.75,354.68 157.27,355.17 157.79,355.66 158.31,356.14 158.83,356.62 159.35,357.09 159.87,357.55 160.39,358.01 160.91,358.46 161.43,358.9 161.95,359.34 162.47,359.78 162.98,360.21 163.5,360.63 164.02,361.05 164.54,361.46 165.06,361.87 165.58,362.27 166.1,362.66 166.62,363.05 167.14,363.44 167.66,363.82 168.18,364.2 168.7,364.57 169.22,364.93 169.74,365.3 170.25,365.65 170.77,366 171.29,366.35 171.81,366.69 172.33,367.03 172.85,367.37 173.37,367.7 173.89,368.02 174.41,368.34 174.93,368.66 175.45,368.97 175.97,369.28 176.49,369.58 177,369.88 177.52,370.18 178.04,370.47 178.56,370.76 179.08,371.04 179.6,371.32 180.12,371.6 180.64,371.87 181.16,372.14 181.68,372.41 182.2,372.67 182.72,372.93 183.24,373.18 183.75,373.44 184.27,373.68 184.79,373.93 185.31,374.17 185.83,374.41 186.35,374.65 186.87,374.88 187.39,375.11 187.91,375.33 188.43,375.56 188.95,375.78 189.47,375.99 189.99,376.21 190.5,376.42 191.02,376.63 191.54,376.83 192.06,377.04 192.58,377.24 193.1,377.44 193.62,377.63 194.14,377.82 194.66,378.01 195.18,378.2 195.7,378.39 196.22,378.57 196.74,378.75 197.26,378.93 197.77,379.1 198.29,379.27 198.81,379.44 199.33,379.61 199.85,379.78 200.37,379.94 200.89,380.1 201.41,380.26 201.93,380.42 202.45,380.58 202.97,380.73 203.49,380.88 204.01,381.03 204.52,381.18 205.04,381.32 205.56,381.46 206.08,381.6 206.6,381.74 207.12,381.88 207.64,382.02 208.16,382.15 208.68,382.28 209.2,382.41 209.72,382.54 210.24,382.67 210.76,382.79 211.27,382.91 211.79,383.04 212.31,383.16 212.83,383.27 213.35,383.39 213.87,383.51 214.39,383.62 214.91,383.73 215.43,383.84 215.95,383.95 216.47,384.06 216.99,384.16 217.51,384.27 218.03,384.37 218.54,384.47 219.06,384.57 219.58,384.67 220.1,384.77 220.62,384.87 221.14,384.96 221.66,385.06 222.18,385.15 222.7,385.24 223.22,385.33 223.74,385.42 224.26,385.51 224.78,385.59 225.29,385.68 225.81,385.76 226.33,385.84 226.85,385.93 227.37,386.01 227.89,386.09 228.41,386.16 228.93,386.24 229.45,386.32 229.97,386.39 230.49,386.47 231.01,386.54 231.53,386.61 232.04,386.68 232.56,386.75 233.08,386.82 233.6,386.89 234.12,386.96 234.64,387.02 235.16,387.09 235.68,387.15 236.2,387.22 236.72,387.28 237.24,387.34 237.76,387.4 238.28,387.46 238.8,387.52 239.31,387.58 239.83,387.63 240.35,387.69 240.87,387.75 241.39,387.8 241.91,387.85 242.43,387.91 242.95,387.96 243.47,388.01 243.99,388.06 244.51,388.11 245.03,388.16 245.55,388.21 246.06,388.26 246.58,388.31 247.1,388.35 247.62,388.4 248.14,388.45 248.66,388.49 249.18,388.53 249.7,388.58 250.22,388.62 250.74,388.66 251.26,388.7 251.78,388.74 252.3,388.78 252.81,388.82 253.33,388.86 253.85,388.9 254.37,388.94 254.89,388.97 255.41,389.01 255.93,389.05 256.45,389.08 256.97,389.12 257.49,389.15 258.01,389.19 258.53,389.22 259.05,389.25 259.57,389.28 260.08,389.31 260.6,389.35 261.12,389.38 261.64,389.41 262.16,389.44 262.68,389.47 263.2,389.49" fill="none" stroke="#ff2a3a" stroke-width="1.8" stroke-linejoin="round" stroke-linecap="round"/>
</g>
<path d="M55.5 224.3H263.2V390.85" fill="none" stroke="#333" stroke-width="1.2"/>
<path d="M55.5 224.3V390.85H263.2" fill="none" stroke="#000" stroke-width="1.3" stroke-linecap="square"/>
<path d="M55.5 390.85v3.3M107.42 390.85v3.3M159.35 390.85v3.3M211.27 390.85v3.3M263.2 390.85v3.3M81.46 390.85v1.7M133.39 390.85v1.7M185.31 390.85v1.7M237.24 390.85v1.7M55.5 390.85h-3.3M55.5 349.21h-3.3M55.5 307.58h-3.3M55.5 265.94h-3.3M55.5 224.3h-3.3M55.5 370.03h-1.7M55.5 328.39h-1.7M55.5 286.76h-1.7M55.5 245.12h-1.7" fill="none" stroke="#000" stroke-width="1.3"/>
<text transform="translate(55.5 403.65) scale(1 1.08)" text-anchor="middle" class="t">450</text>
<text transform="translate(107.42 403.65) scale(1 1.08)" text-anchor="middle" class="t">500</text>
<text transform="translate(159.35 403.65) scale(1 1.08)" text-anchor="middle" class="t">550</text>
<text transform="translate(211.27 403.65) scale(1 1.08)" text-anchor="middle" class="t">600</text>
<text transform="translate(263.2 403.65) scale(1 1.08)" text-anchor="middle" class="t">650</text>
<text transform="translate(50.1 394.15) scale(1 1.08)" text-anchor="end" class="t">0</text>
<text transform="translate(50.1 352.51) scale(1 1.08)" text-anchor="end" class="t">250</text>
<text transform="translate(50.1 310.88) scale(1 1.08)" text-anchor="end" class="t">500</text>
<text transform="translate(50.1 269.24) scale(1 1.08)" text-anchor="end" class="t">750</text>
<text transform="translate(50.1 227.6) scale(1 1.08)" text-anchor="end" class="t">1000</text>
<text transform="translate(159.35 422.6) scale(1 1)" text-anchor="middle" class="a">Wavelength</text>
<text transform="translate(23.9 307.58) rotate(-90) scale(1 1)" text-anchor="middle" class="a">FL intensity</text>
<text transform="translate(7.8 227) scale(1 1.08)" class="l">C</text>
<text x="260.8" y="238.2" text-anchor="end" class="g">PE content (vol%)</text>
<path d="M222.1 248.25H244.7" stroke="#000000" stroke-width="2"/>
<text x="246.6" y="251.85" class="g">0</text>
<path d="M222.1 260.65H244.7" stroke="#7f00ff" stroke-width="2"/>
<text x="246.6" y="264.25" class="g">10</text>
<path d="M222.1 273.05H244.7" stroke="#1f4bff" stroke-width="2"/>
<text x="246.6" y="276.65" class="g">20</text>
<path d="M222.1 285.45H244.7" stroke="#007f00" stroke-width="2"/>
<text x="246.6" y="289.05" class="g">30</text>
<path d="M222.1 297.85H244.7" stroke="#99ee00" stroke-width="2"/>
<text x="246.6" y="301.45" class="g">40</text>
<path d="M222.1 310.25H244.7" stroke="#a67c00" stroke-width="2"/>
<text x="246.6" y="313.85" class="g">50</text>
<path d="M222.1 322.65H244.7" stroke="#ffff00" stroke-width="2"/>
<text x="246.6" y="326.25" class="g">60</text>
<path d="M222.1 335.05H244.7" stroke="#ff7f00" stroke-width="2"/>
<text x="246.6" y="338.65" class="g">70</text>
<path d="M222.1 347.45H244.7" stroke="#ff2fc0" stroke-width="2"/>
<text x="246.6" y="351.05" class="g">80</text>
<path d="M222.1 359.85H244.7" stroke="#ff2a3a" stroke-width="2"/>
<text x="246.6" y="363.45" class="g">90</text>
</g>
<g id="panelD">
<path d="M327.67 372.67L341.73 364.76M348.79 360.6L363.01 351.84M370.07 347.68L384.13 339.77M390.57 334.83L406.03 319.1M411.38 312.91L427.62 291.61M433.67 290.35L447.73 298.26M455.35 299.62L468.45 297.51M474.31 293.18L491.89 257.38M497.63 254.86L510.97 258.78" fill="none" stroke="#000" stroke-width="1.55"/>
<rect x="321.25" y="371.83" width="5.7" height="5.7" fill="#000"/>
<rect x="342.45" y="359.9" width="5.7" height="5.7" fill="#000"/>
<rect x="363.65" y="346.84" width="5.7" height="5.7" fill="#000"/>
<rect x="384.85" y="334.91" width="5.7" height="5.7" fill="#000"/>
<rect x="406.05" y="313.33" width="5.7" height="5.7" fill="#000"/>
<rect x="427.25" y="285.49" width="5.7" height="5.7" fill="#000"/>
<rect x="448.45" y="297.42" width="5.7" height="5.7" fill="#000"/>
<rect x="469.65" y="294.01" width="5.7" height="5.7" fill="#000"/>
<rect x="490.85" y="250.85" width="5.7" height="5.7" fill="#000"/>
<rect x="512.05" y="257.09" width="5.7" height="5.7" fill="#000"/>
<path d="M324.1 227H536.1V397.4" fill="none" stroke="#333" stroke-width="1"/>
<path d="M324.1 227V397.4H536.1" fill="none" stroke="#000" stroke-width="1" stroke-linecap="square"/>
<path d="M324.1 397.4v3.3M366.5 397.4v3.3M408.9 397.4v3.3M451.3 397.4v3.3M493.7 397.4v3.3M536.1 397.4v3.3M345.3 397.4v1.7M387.7 397.4v1.7M430.1 397.4v1.7M472.5 397.4v1.7M514.9 397.4v1.7M324.1 397.4h-3.3M324.1 340.6h-3.3M324.1 283.8h-3.3M324.1 227h-3.3M324.1 369h-1.7M324.1 312.2h-1.7M324.1 255.4h-1.7" fill="none" stroke="#000" stroke-width="1"/>
<text transform="translate(324.1 410.5) scale(1 1.08)" text-anchor="middle" class="t">0</text>
<text transform="translate(366.5 410.5) scale(1 1.08)" text-anchor="middle" class="t">20</text>
<text transform="translate(408.9 410.5) scale(1 1.08)" text-anchor="middle" class="t">40</text>
<text transform="translate(451.3 410.5) scale(1 1.08)" text-anchor="middle" class="t">60</text>
<text transform="translate(493.7 410.5) scale(1 1.08)" text-anchor="middle" class="t">80</text>
<text transform="translate(536.1 410.5) scale(1 1.08)" text-anchor="middle" class="t">100</text>
<text transform="translate(318.7 400.6) scale(1 1.08)" text-anchor="end" class="t">600</text>
<text transform="translate(318.7 343.8) scale(1 1.08)" text-anchor="end" class="t">700</text>
<text transform="translate(318.7 287) scale(1 1.08)" text-anchor="end" class="t">800</text>
<text transform="translate(318.7 230.2) scale(1 1.08)" text-anchor="end" class="t">900</text>
<text transform="translate(434.4 430) scale(1 1)" text-anchor="middle" class="a">PE content（vol%）</text>
<text transform="translate(296.5 312.2) rotate(-90) scale(1 1)" text-anchor="middle" class="a">FL intensity</text>
<text transform="translate(281.4 226.2) scale(1.1 1.06)" class="l">D</text>
</g>
</svg>
</body>
</html>
